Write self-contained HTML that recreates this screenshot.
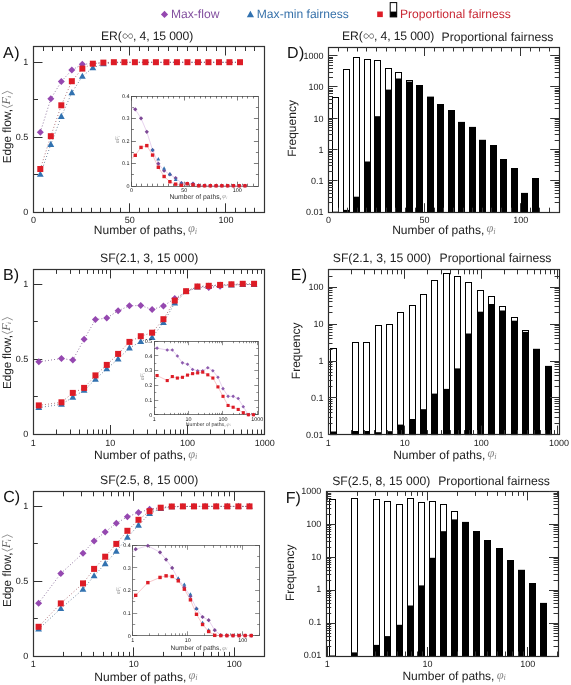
<!DOCTYPE html><html><head><meta charset="utf-8"><style>html,body{margin:0;padding:0;background:#fff;overflow:hidden}svg{display:block;filter:blur(0.3px)} text{text-rendering:geometricPrecision}</style></head><body>
<svg width="571" height="685" viewBox="0 0 571 685">
<rect x="0" y="0" width="571" height="685" fill="#fff" stroke="none" stroke-width="1"/>
<path d="M164.5 10.8L168.1 14.4L164.5 18L160.9 14.4Z" fill="#9548B0"/>
<text x="171" y="18" font-size="12.1" text-anchor="start" fill="#83509f" font-family='"Liberation Sans", sans-serif' >Max-flow</text>
<path d="M250.4 10.64L254 17.24L246.8 17.24Z" fill="#3272B0"/>
<text x="256.8" y="18" font-size="12.1" text-anchor="start" fill="#3872aa" font-family='"Liberation Sans", sans-serif' >Max-min fairness</text>
<rect x="377.2" y="11.5" width="5.6" height="5.6" fill="#DD1C26" stroke="none" stroke-width="1"/>
<rect x="390.2" y="2.6" width="6.5" height="14.3" fill="#fff" stroke="#000" stroke-width="1"/>
<rect x="390.2" y="11.6" width="6.5" height="5.3" fill="#000" stroke="none" stroke-width="1"/>
<text x="400" y="18" font-size="12.1" text-anchor="start" fill="#c92a36" font-family='"Liberation Sans", sans-serif' >Proportional fairness</text>
<rect x="33.5" y="46.5" width="231" height="166" fill="none" stroke="#333" stroke-width="1.2"/>
<line x1="33.5" y1="212.3" x2="33.5" y2="203.3" stroke="#333" stroke-width="1" />
<line x1="33.5" y1="46.5" x2="33.5" y2="55.5" stroke="#333" stroke-width="1" />
<line x1="129.5" y1="212.3" x2="129.5" y2="203.3" stroke="#333" stroke-width="1" />
<line x1="129.5" y1="46.5" x2="129.5" y2="55.5" stroke="#333" stroke-width="1" />
<line x1="225.5" y1="212.3" x2="225.5" y2="203.3" stroke="#333" stroke-width="1" />
<line x1="225.5" y1="46.5" x2="225.5" y2="55.5" stroke="#333" stroke-width="1" />
<line x1="43.5" y1="212.3" x2="43.5" y2="207.8" stroke="#333" stroke-width="1" />
<line x1="43.5" y1="46.5" x2="43.5" y2="51" stroke="#333" stroke-width="1" />
<line x1="52.5" y1="212.3" x2="52.5" y2="207.8" stroke="#333" stroke-width="1" />
<line x1="52.5" y1="46.5" x2="52.5" y2="51" stroke="#333" stroke-width="1" />
<line x1="62.5" y1="212.3" x2="62.5" y2="207.8" stroke="#333" stroke-width="1" />
<line x1="62.5" y1="46.5" x2="62.5" y2="51" stroke="#333" stroke-width="1" />
<line x1="71.5" y1="212.3" x2="71.5" y2="207.8" stroke="#333" stroke-width="1" />
<line x1="71.5" y1="46.5" x2="71.5" y2="51" stroke="#333" stroke-width="1" />
<line x1="81.5" y1="212.3" x2="81.5" y2="207.8" stroke="#333" stroke-width="1" />
<line x1="81.5" y1="46.5" x2="81.5" y2="51" stroke="#333" stroke-width="1" />
<line x1="91.5" y1="212.3" x2="91.5" y2="207.8" stroke="#333" stroke-width="1" />
<line x1="91.5" y1="46.5" x2="91.5" y2="51" stroke="#333" stroke-width="1" />
<line x1="100.5" y1="212.3" x2="100.5" y2="207.8" stroke="#333" stroke-width="1" />
<line x1="100.5" y1="46.5" x2="100.5" y2="51" stroke="#333" stroke-width="1" />
<line x1="110.5" y1="212.3" x2="110.5" y2="207.8" stroke="#333" stroke-width="1" />
<line x1="110.5" y1="46.5" x2="110.5" y2="51" stroke="#333" stroke-width="1" />
<line x1="120.5" y1="212.3" x2="120.5" y2="207.8" stroke="#333" stroke-width="1" />
<line x1="120.5" y1="46.5" x2="120.5" y2="51" stroke="#333" stroke-width="1" />
<line x1="139.5" y1="212.3" x2="139.5" y2="207.8" stroke="#333" stroke-width="1" />
<line x1="139.5" y1="46.5" x2="139.5" y2="51" stroke="#333" stroke-width="1" />
<line x1="148.5" y1="212.3" x2="148.5" y2="207.8" stroke="#333" stroke-width="1" />
<line x1="148.5" y1="46.5" x2="148.5" y2="51" stroke="#333" stroke-width="1" />
<line x1="158.5" y1="212.3" x2="158.5" y2="207.8" stroke="#333" stroke-width="1" />
<line x1="158.5" y1="46.5" x2="158.5" y2="51" stroke="#333" stroke-width="1" />
<line x1="168.5" y1="212.3" x2="168.5" y2="207.8" stroke="#333" stroke-width="1" />
<line x1="168.5" y1="46.5" x2="168.5" y2="51" stroke="#333" stroke-width="1" />
<line x1="177.5" y1="212.3" x2="177.5" y2="207.8" stroke="#333" stroke-width="1" />
<line x1="177.5" y1="46.5" x2="177.5" y2="51" stroke="#333" stroke-width="1" />
<line x1="187.5" y1="212.3" x2="187.5" y2="207.8" stroke="#333" stroke-width="1" />
<line x1="187.5" y1="46.5" x2="187.5" y2="51" stroke="#333" stroke-width="1" />
<line x1="197.5" y1="212.3" x2="197.5" y2="207.8" stroke="#333" stroke-width="1" />
<line x1="197.5" y1="46.5" x2="197.5" y2="51" stroke="#333" stroke-width="1" />
<line x1="206.5" y1="212.3" x2="206.5" y2="207.8" stroke="#333" stroke-width="1" />
<line x1="206.5" y1="46.5" x2="206.5" y2="51" stroke="#333" stroke-width="1" />
<line x1="216.5" y1="212.3" x2="216.5" y2="207.8" stroke="#333" stroke-width="1" />
<line x1="216.5" y1="46.5" x2="216.5" y2="51" stroke="#333" stroke-width="1" />
<line x1="235.5" y1="212.3" x2="235.5" y2="207.8" stroke="#333" stroke-width="1" />
<line x1="235.5" y1="46.5" x2="235.5" y2="51" stroke="#333" stroke-width="1" />
<line x1="245.5" y1="212.3" x2="245.5" y2="207.8" stroke="#333" stroke-width="1" />
<line x1="245.5" y1="46.5" x2="245.5" y2="51" stroke="#333" stroke-width="1" />
<line x1="254.5" y1="212.3" x2="254.5" y2="207.8" stroke="#333" stroke-width="1" />
<line x1="254.5" y1="46.5" x2="254.5" y2="51" stroke="#333" stroke-width="1" />
<line x1="33.5" y1="212.5" x2="42.5" y2="212.5" stroke="#333" stroke-width="1" />
<line x1="33.5" y1="137.5" x2="42.5" y2="137.5" stroke="#333" stroke-width="1" />
<line x1="33.5" y1="62.5" x2="42.5" y2="62.5" stroke="#333" stroke-width="1" />
<line x1="33.5" y1="174.5" x2="38" y2="174.5" stroke="#333" stroke-width="1" />
<line x1="33.5" y1="99.5" x2="38" y2="99.5" stroke="#333" stroke-width="1" />
<text x="33.4" y="222.9" font-size="9" text-anchor="middle" fill="#222" font-family='"Liberation Sans", sans-serif' >0</text>
<text x="129.65" y="222.9" font-size="9" text-anchor="middle" fill="#222" font-family='"Liberation Sans", sans-serif' >50</text>
<text x="225.9" y="222.9" font-size="9" text-anchor="middle" fill="#222" font-family='"Liberation Sans", sans-serif' >100</text>
<text x="28.3" y="214.9" font-size="9" text-anchor="end" fill="#222" font-family='"Liberation Sans", sans-serif' >0</text>
<text x="28.3" y="139.75" font-size="9" text-anchor="end" fill="#222" font-family='"Liberation Sans", sans-serif' >0.5</text>
<text x="28.3" y="64.6" font-size="9" text-anchor="end" fill="#222" font-family='"Liberation Sans", sans-serif' >1</text>
<text x="100.9" y="40" font-size="12.2" text-anchor="start" fill="#222" font-family='"Liberation Sans", sans-serif' >ER(</text>
<path d="M132.55 36.1 L132.53 36.43 L132.47 36.75 L132.38 37.06 L132.25 37.34 L132.1 37.59 L131.92 37.81 L131.73 37.99 L131.52 38.13 L131.31 38.23 L131.09 38.3 L130.87 38.34 L130.66 38.35 L130.44 38.33 L130.24 38.29 L130.04 38.22 L129.85 38.14 L129.66 38.04 L129.49 37.93 L129.32 37.81 L129.16 37.67 L129 37.53 L128.85 37.39 L128.71 37.24 L128.57 37.08 L128.44 36.92 L128.3 36.76 L128.18 36.6 L128.05 36.43 L127.92 36.27 L127.8 36.1 L127.68 35.93 L127.55 35.77 L127.42 35.6 L127.3 35.44 L127.16 35.28 L127.03 35.12 L126.89 34.96 L126.75 34.81 L126.6 34.67 L126.44 34.53 L126.28 34.39 L126.11 34.27 L125.94 34.16 L125.75 34.06 L125.56 33.98 L125.36 33.91 L125.16 33.87 L124.94 33.85 L124.73 33.86 L124.51 33.9 L124.29 33.97 L124.08 34.07 L123.87 34.21 L123.68 34.39 L123.5 34.61 L123.35 34.86 L123.22 35.14 L123.13 35.45 L123.07 35.77 L123.05 36.1 L123.07 36.43 L123.13 36.75 L123.22 37.06 L123.35 37.34 L123.5 37.59 L123.68 37.81 L123.87 37.99 L124.08 38.13 L124.29 38.23 L124.51 38.3 L124.73 38.34 L124.94 38.35 L125.16 38.33 L125.36 38.29 L125.56 38.22 L125.75 38.14 L125.94 38.04 L126.11 37.93 L126.28 37.81 L126.44 37.67 L126.6 37.53 L126.75 37.39 L126.89 37.24 L127.03 37.08 L127.16 36.92 L127.3 36.76 L127.42 36.6 L127.55 36.43 L127.68 36.27 L127.8 36.1 L127.92 35.93 L128.05 35.77 L128.18 35.6 L128.3 35.44 L128.44 35.28 L128.57 35.12 L128.71 34.96 L128.85 34.81 L129 34.67 L129.16 34.53 L129.32 34.39 L129.49 34.27 L129.66 34.16 L129.85 34.06 L130.04 33.98 L130.24 33.91 L130.44 33.87 L130.66 33.85 L130.87 33.86 L131.09 33.9 L131.31 33.97 L131.52 34.07 L131.73 34.21 L131.92 34.39 L132.1 34.61 L132.25 34.86 L132.38 35.14 L132.47 35.45 L132.53 35.77 L132.55 36.1Z" fill="none" stroke="#555" stroke-width="0.9"/>
<text x="133" y="40" font-size="12.2" text-anchor="start" fill="#222" font-family='"Liberation Sans", sans-serif' textLength="60.2" lengthAdjust="spacing">, 4, 15 000)</text>
<text x="3.1" y="58.1" font-size="16" fill="#111" font-family='"Liberation Sans", sans-serif'>A<tspan dx="0.4">)</tspan></text>
<path d="M40.3 174.4 L50.81 144.5 L61.32 116.5 L71.83 92.7 L82.34 76.3 L92.85 67.8 L103.36 63.8 L113.87 62.8 L124.38 62.4 L134.89 62.4 L145.4 62.4 L155.91 62.4 L166.42 62.4 L176.93 62.4 L187.44 62.4 L197.95 62.4 L208.46 62.4 L218.97 62.4 L229.48 62.4 L239.99 62.4" fill="none" stroke="#4f6a88" stroke-width="0.9" stroke-dasharray="0.9 2.2"/>
<path d="M40.3 132.3 L50.81 98.8 L61.32 81.5 L71.83 70 L82.34 64.3 L92.85 63.6 L103.36 62.6 L113.87 62.4 L124.38 62.4 L134.89 62.4 L145.4 62.4 L155.91 62.4 L166.42 62.4 L176.93 62.4 L187.44 62.4 L197.95 62.4 L208.46 62.4 L218.97 62.4 L229.48 62.4 L239.99 62.4" fill="none" stroke="#7a5a8c" stroke-width="0.9" stroke-dasharray="0.9 2.2"/>
<path d="M40.3 169 L50.81 136.2 L61.32 105.3 L71.83 81.2 L82.34 68.6 L92.85 63.7 L103.36 62.6 L113.87 62.2 L124.38 62.2 L134.89 62.2 L145.4 62.2 L155.91 62.2 L166.42 62.2 L176.93 62.2 L187.44 62.2 L197.95 62.2 L208.46 62.2 L218.97 62.2 L229.48 62.2 L239.99 62.2" fill="none" stroke="#a05a62" stroke-width="0.9" stroke-dasharray="0.9 2.2"/>
<path d="M40.3 170.74L43.7 176.84L36.9 176.84Z" fill="#3272B0"/>
<path d="M50.81 140.84L54.21 146.94L47.41 146.94Z" fill="#3272B0"/>
<path d="M61.32 112.84L64.72 118.94L57.92 118.94Z" fill="#3272B0"/>
<path d="M71.83 89.04L75.23 95.14L68.43 95.14Z" fill="#3272B0"/>
<path d="M82.34 72.64L85.74 78.74L78.94 78.74Z" fill="#3272B0"/>
<path d="M92.85 64.14L96.25 70.24L89.45 70.24Z" fill="#3272B0"/>
<path d="M103.36 60.14L106.76 66.24L99.96 66.24Z" fill="#3272B0"/>
<path d="M40.3 128.8L43.8 132.3L40.3 135.8L36.8 132.3Z" fill="#9548B0"/>
<path d="M50.81 95.3L54.31 98.8L50.81 102.3L47.31 98.8Z" fill="#9548B0"/>
<path d="M61.32 78L64.82 81.5L61.32 85L57.82 81.5Z" fill="#9548B0"/>
<path d="M71.83 66.5L75.33 70L71.83 73.5L68.33 70Z" fill="#9548B0"/>
<path d="M82.34 60.8L85.84 64.3L82.34 67.8L78.84 64.3Z" fill="#9548B0"/>
<rect x="37.3" y="166" width="6" height="6" fill="#DD1C26" stroke="none" stroke-width="1"/>
<rect x="47.81" y="133.2" width="6" height="6" fill="#DD1C26" stroke="none" stroke-width="1"/>
<rect x="58.32" y="102.3" width="6" height="6" fill="#DD1C26" stroke="none" stroke-width="1"/>
<rect x="68.83" y="78.2" width="6" height="6" fill="#DD1C26" stroke="none" stroke-width="1"/>
<rect x="79.34" y="65.6" width="6" height="6" fill="#DD1C26" stroke="none" stroke-width="1"/>
<rect x="89.85" y="60.7" width="6" height="6" fill="#DD1C26" stroke="none" stroke-width="1"/>
<rect x="100.36" y="59.6" width="6" height="6" fill="#DD1C26" stroke="none" stroke-width="1"/>
<rect x="110.87" y="59.2" width="6" height="6" fill="#DD1C26" stroke="none" stroke-width="1"/>
<rect x="121.38" y="59.2" width="6" height="6" fill="#DD1C26" stroke="none" stroke-width="1"/>
<rect x="131.89" y="59.2" width="6" height="6" fill="#DD1C26" stroke="none" stroke-width="1"/>
<rect x="142.4" y="59.2" width="6" height="6" fill="#DD1C26" stroke="none" stroke-width="1"/>
<rect x="152.91" y="59.2" width="6" height="6" fill="#DD1C26" stroke="none" stroke-width="1"/>
<rect x="163.42" y="59.2" width="6" height="6" fill="#DD1C26" stroke="none" stroke-width="1"/>
<rect x="173.93" y="59.2" width="6" height="6" fill="#DD1C26" stroke="none" stroke-width="1"/>
<rect x="184.44" y="59.2" width="6" height="6" fill="#DD1C26" stroke="none" stroke-width="1"/>
<rect x="194.95" y="59.2" width="6" height="6" fill="#DD1C26" stroke="none" stroke-width="1"/>
<rect x="205.46" y="59.2" width="6" height="6" fill="#DD1C26" stroke="none" stroke-width="1"/>
<rect x="215.97" y="59.2" width="6" height="6" fill="#DD1C26" stroke="none" stroke-width="1"/>
<rect x="226.48" y="59.2" width="6" height="6" fill="#DD1C26" stroke="none" stroke-width="1"/>
<rect x="236.99" y="59.2" width="6" height="6" fill="#DD1C26" stroke="none" stroke-width="1"/>
<rect x="131.4" y="96" width="127" height="90.2" fill="#fff" stroke="none" stroke-width="1"/>
<rect x="131.5" y="96.5" width="127" height="90" fill="none" stroke="#555" stroke-width="0.8"/>
<line x1="131.5" y1="186.2" x2="131.5" y2="181.7" stroke="#444" stroke-width="0.7" />
<line x1="131.5" y1="96" x2="131.5" y2="100.5" stroke="#444" stroke-width="0.7" />
<line x1="184.5" y1="186.2" x2="184.5" y2="181.7" stroke="#444" stroke-width="0.7" />
<line x1="184.5" y1="96" x2="184.5" y2="100.5" stroke="#444" stroke-width="0.7" />
<line x1="237.5" y1="186.2" x2="237.5" y2="181.7" stroke="#444" stroke-width="0.7" />
<line x1="237.5" y1="96" x2="237.5" y2="100.5" stroke="#444" stroke-width="0.7" />
<line x1="136.5" y1="186.2" x2="136.5" y2="183.7" stroke="#444" stroke-width="0.7" />
<line x1="136.5" y1="96" x2="136.5" y2="98.5" stroke="#444" stroke-width="0.7" />
<line x1="141.5" y1="186.2" x2="141.5" y2="183.7" stroke="#444" stroke-width="0.7" />
<line x1="141.5" y1="96" x2="141.5" y2="98.5" stroke="#444" stroke-width="0.7" />
<line x1="147.5" y1="186.2" x2="147.5" y2="183.7" stroke="#444" stroke-width="0.7" />
<line x1="147.5" y1="96" x2="147.5" y2="98.5" stroke="#444" stroke-width="0.7" />
<line x1="152.5" y1="186.2" x2="152.5" y2="183.7" stroke="#444" stroke-width="0.7" />
<line x1="152.5" y1="96" x2="152.5" y2="98.5" stroke="#444" stroke-width="0.7" />
<line x1="157.5" y1="186.2" x2="157.5" y2="183.7" stroke="#444" stroke-width="0.7" />
<line x1="157.5" y1="96" x2="157.5" y2="98.5" stroke="#444" stroke-width="0.7" />
<line x1="163.5" y1="186.2" x2="163.5" y2="183.7" stroke="#444" stroke-width="0.7" />
<line x1="163.5" y1="96" x2="163.5" y2="98.5" stroke="#444" stroke-width="0.7" />
<line x1="168.5" y1="186.2" x2="168.5" y2="183.7" stroke="#444" stroke-width="0.7" />
<line x1="168.5" y1="96" x2="168.5" y2="98.5" stroke="#444" stroke-width="0.7" />
<line x1="173.5" y1="186.2" x2="173.5" y2="183.7" stroke="#444" stroke-width="0.7" />
<line x1="173.5" y1="96" x2="173.5" y2="98.5" stroke="#444" stroke-width="0.7" />
<line x1="179.5" y1="186.2" x2="179.5" y2="183.7" stroke="#444" stroke-width="0.7" />
<line x1="179.5" y1="96" x2="179.5" y2="98.5" stroke="#444" stroke-width="0.7" />
<line x1="189.5" y1="186.2" x2="189.5" y2="183.7" stroke="#444" stroke-width="0.7" />
<line x1="189.5" y1="96" x2="189.5" y2="98.5" stroke="#444" stroke-width="0.7" />
<line x1="194.5" y1="186.2" x2="194.5" y2="183.7" stroke="#444" stroke-width="0.7" />
<line x1="194.5" y1="96" x2="194.5" y2="98.5" stroke="#444" stroke-width="0.7" />
<line x1="200.5" y1="186.2" x2="200.5" y2="183.7" stroke="#444" stroke-width="0.7" />
<line x1="200.5" y1="96" x2="200.5" y2="98.5" stroke="#444" stroke-width="0.7" />
<line x1="205.5" y1="186.2" x2="205.5" y2="183.7" stroke="#444" stroke-width="0.7" />
<line x1="205.5" y1="96" x2="205.5" y2="98.5" stroke="#444" stroke-width="0.7" />
<line x1="210.5" y1="186.2" x2="210.5" y2="183.7" stroke="#444" stroke-width="0.7" />
<line x1="210.5" y1="96" x2="210.5" y2="98.5" stroke="#444" stroke-width="0.7" />
<line x1="216.5" y1="186.2" x2="216.5" y2="183.7" stroke="#444" stroke-width="0.7" />
<line x1="216.5" y1="96" x2="216.5" y2="98.5" stroke="#444" stroke-width="0.7" />
<line x1="221.5" y1="186.2" x2="221.5" y2="183.7" stroke="#444" stroke-width="0.7" />
<line x1="221.5" y1="96" x2="221.5" y2="98.5" stroke="#444" stroke-width="0.7" />
<line x1="226.5" y1="186.2" x2="226.5" y2="183.7" stroke="#444" stroke-width="0.7" />
<line x1="226.5" y1="96" x2="226.5" y2="98.5" stroke="#444" stroke-width="0.7" />
<line x1="231.5" y1="186.2" x2="231.5" y2="183.7" stroke="#444" stroke-width="0.7" />
<line x1="231.5" y1="96" x2="231.5" y2="98.5" stroke="#444" stroke-width="0.7" />
<line x1="242.5" y1="186.2" x2="242.5" y2="183.7" stroke="#444" stroke-width="0.7" />
<line x1="242.5" y1="96" x2="242.5" y2="98.5" stroke="#444" stroke-width="0.7" />
<line x1="247.5" y1="186.2" x2="247.5" y2="183.7" stroke="#444" stroke-width="0.7" />
<line x1="247.5" y1="96" x2="247.5" y2="98.5" stroke="#444" stroke-width="0.7" />
<line x1="253.5" y1="186.2" x2="253.5" y2="183.7" stroke="#444" stroke-width="0.7" />
<line x1="253.5" y1="96" x2="253.5" y2="98.5" stroke="#444" stroke-width="0.7" />
<line x1="131.4" y1="186.5" x2="135.9" y2="186.5" stroke="#444" stroke-width="0.7" />
<line x1="258.4" y1="186.5" x2="253.9" y2="186.5" stroke="#444" stroke-width="0.7" />
<line x1="131.4" y1="163.5" x2="135.9" y2="163.5" stroke="#444" stroke-width="0.7" />
<line x1="258.4" y1="163.5" x2="253.9" y2="163.5" stroke="#444" stroke-width="0.7" />
<line x1="131.4" y1="141.5" x2="135.9" y2="141.5" stroke="#444" stroke-width="0.7" />
<line x1="258.4" y1="141.5" x2="253.9" y2="141.5" stroke="#444" stroke-width="0.7" />
<line x1="131.4" y1="118.5" x2="135.9" y2="118.5" stroke="#444" stroke-width="0.7" />
<line x1="258.4" y1="118.5" x2="253.9" y2="118.5" stroke="#444" stroke-width="0.7" />
<line x1="131.4" y1="96.5" x2="135.9" y2="96.5" stroke="#444" stroke-width="0.7" />
<line x1="258.4" y1="96.5" x2="253.9" y2="96.5" stroke="#444" stroke-width="0.7" />
<line x1="131.4" y1="174.5" x2="133.9" y2="174.5" stroke="#444" stroke-width="0.7" />
<line x1="258.4" y1="174.5" x2="255.9" y2="174.5" stroke="#444" stroke-width="0.7" />
<line x1="131.4" y1="152.5" x2="133.9" y2="152.5" stroke="#444" stroke-width="0.7" />
<line x1="258.4" y1="152.5" x2="255.9" y2="152.5" stroke="#444" stroke-width="0.7" />
<line x1="131.4" y1="129.5" x2="133.9" y2="129.5" stroke="#444" stroke-width="0.7" />
<line x1="258.4" y1="129.5" x2="255.9" y2="129.5" stroke="#444" stroke-width="0.7" />
<line x1="131.4" y1="107.5" x2="133.9" y2="107.5" stroke="#444" stroke-width="0.7" />
<line x1="258.4" y1="107.5" x2="255.9" y2="107.5" stroke="#444" stroke-width="0.7" />
<text x="129.4" y="187.9" font-size="5.4" text-anchor="end" fill="#111" font-family='"Liberation Sans", sans-serif' >0</text>
<text x="129.4" y="165.35" font-size="5.4" text-anchor="end" fill="#111" font-family='"Liberation Sans", sans-serif' >0.1</text>
<text x="129.4" y="142.8" font-size="5.4" text-anchor="end" fill="#111" font-family='"Liberation Sans", sans-serif' >0.2</text>
<text x="129.4" y="120.25" font-size="5.4" text-anchor="end" fill="#111" font-family='"Liberation Sans", sans-serif' >0.3</text>
<text x="129.4" y="97.7" font-size="5.4" text-anchor="end" fill="#111" font-family='"Liberation Sans", sans-serif' >0.4</text>
<text x="131.4" y="192.3" font-size="5.4" text-anchor="middle" fill="#111" font-family='"Liberation Sans", sans-serif' >0</text>
<text x="184.32" y="192.3" font-size="5.4" text-anchor="middle" fill="#111" font-family='"Liberation Sans", sans-serif' >50</text>
<text x="237.23" y="192.3" font-size="5.4" text-anchor="middle" fill="#111" font-family='"Liberation Sans", sans-serif' >100</text>
<text x="169.4" y="198.8" font-size="6.8" text-anchor="start" fill="#333" font-family='"Liberation Sans", sans-serif' >Number of paths,</text>
<text x="222.2" y="198.3" font-size="6.5" text-anchor="start" fill="#999" font-family='"Liberation Serif", serif' font-style="italic" >φ</text>
<text x="226.2" y="198.8" font-size="4" text-anchor="start" fill="#999" font-family='"Liberation Serif", serif' font-style="italic" >i</text>
<g transform="translate(118.8,143.2) rotate(-90)">
<text x="0" y="0" font-size="5.8" fill="#888" font-family='"Liberation Serif", serif' font-style="italic">σF<tspan font-size="3.8" dy="1">i</tspan></text>
</g>
<path d="M131.4 107.28 L135.25 109.3 L141.02 118.32 L146.8 131.85 L152.57 150.12 L158.35 163.65 L164.12 170.64 L169.9 174.47 L175.67 178.08 L181.45 183.04 L187.22 183.49 L193 183.49 L198.77 185.3 L204.55 185.52 L210.33 185.75 L216.1 185.75 L221.88 185.75 L227.65 185.75 L233.43 185.75 L239.2 185.75 L244.98 185.75" fill="none" stroke="#dcbfe6" stroke-width="0.7"/>
<path d="M131.4 159.14 L135.25 155.31 L141.02 147.41 L146.8 145.61 L152.57 155.08 L158.35 167.26 L164.12 176.5 L169.9 181.69 L175.67 184.17 L181.45 185.3 L187.22 183.72 L193 184.85 L198.77 185.75 L204.55 185.75 L210.33 185.75 L216.1 185.75 L221.88 185.75 L227.65 185.75 L233.43 185.75 L239.2 185.75 L244.98 185.75" fill="none" stroke="#f2b0b6" stroke-width="0.7"/>
<path d="M135.25 107.2L137.35 109.3L135.25 111.4L133.15 109.3Z" fill="#7d4896"/>
<path d="M141.02 116.22L143.12 118.32L141.02 120.42L138.92 118.32Z" fill="#7d4896"/>
<path d="M146.8 129.75L148.9 131.85L146.8 133.95L144.7 131.85Z" fill="#7d4896"/>
<path d="M152.57 148.02L154.67 150.12L152.57 152.22L150.47 150.12Z" fill="#7d4896"/>
<path d="M158.35 161.55L160.45 163.65L158.35 165.75L156.25 163.65Z" fill="#7d4896"/>
<path d="M164.12 168.54L166.22 170.64L164.12 172.74L162.02 170.64Z" fill="#7d4896"/>
<path d="M169.9 172.37L172 174.47L169.9 176.57L167.8 174.47Z" fill="#7d4896"/>
<path d="M175.67 175.98L177.77 178.08L175.67 180.18L173.57 178.08Z" fill="#7d4896"/>
<path d="M181.45 180.94L183.55 183.04L181.45 185.14L179.35 183.04Z" fill="#7d4896"/>
<path d="M187.22 181.39L189.32 183.49L187.22 185.59L185.12 183.49Z" fill="#7d4896"/>
<path d="M193 181.39L195.1 183.49L193 185.59L190.9 183.49Z" fill="#7d4896"/>
<path d="M198.77 183.2L200.87 185.3L198.77 187.4L196.67 185.3Z" fill="#7d4896"/>
<path d="M204.55 183.42L206.65 185.52L204.55 187.62L202.45 185.52Z" fill="#7d4896"/>
<path d="M210.33 183.65L212.43 185.75L210.33 187.85L208.23 185.75Z" fill="#7d4896"/>
<path d="M216.1 183.65L218.2 185.75L216.1 187.85L214 185.75Z" fill="#7d4896"/>
<path d="M221.88 183.65L223.98 185.75L221.88 187.85L219.78 185.75Z" fill="#7d4896"/>
<path d="M227.65 183.65L229.75 185.75L227.65 187.85L225.55 185.75Z" fill="#7d4896"/>
<path d="M233.43 183.65L235.53 185.75L233.43 187.85L231.33 185.75Z" fill="#7d4896"/>
<path d="M239.2 183.65L241.3 185.75L239.2 187.85L237.1 185.75Z" fill="#7d4896"/>
<path d="M244.98 183.65L247.08 185.75L244.98 187.85L242.88 185.75Z" fill="#7d4896"/>
<path d="M152.57 147.85L154.47 151.25L150.67 151.25Z" fill="#3272B0"/>
<path d="M158.35 157.1L160.25 160.5L156.45 160.5Z" fill="#3272B0"/>
<path d="M164.12 166.35L166.02 169.75L162.22 169.75Z" fill="#3272B0"/>
<path d="M169.9 171.98L171.8 175.38L168 175.38Z" fill="#3272B0"/>
<path d="M175.67 177.62L177.57 181.02L173.77 181.02Z" fill="#3272B0"/>
<path d="M181.45 181.23L183.35 184.63L179.55 184.63Z" fill="#3272B0"/>
<path d="M187.22 181.91L189.12 185.31L185.32 185.31Z" fill="#3272B0"/>
<path d="M193 182.36L194.9 185.76L191.1 185.76Z" fill="#3272B0"/>
<path d="M198.77 183.48L200.67 186.88L196.87 186.88Z" fill="#3272B0"/>
<path d="M204.55 183.71L206.45 187.11L202.65 187.11Z" fill="#3272B0"/>
<path d="M210.33 183.71L212.23 187.11L208.43 187.11Z" fill="#3272B0"/>
<path d="M216.1 183.71L218 187.11L214.2 187.11Z" fill="#3272B0"/>
<path d="M221.88 183.71L223.78 187.11L219.98 187.11Z" fill="#3272B0"/>
<path d="M227.65 183.71L229.55 187.11L225.75 187.11Z" fill="#3272B0"/>
<path d="M233.43 183.71L235.33 187.11L231.53 187.11Z" fill="#3272B0"/>
<path d="M239.2 183.71L241.1 187.11L237.3 187.11Z" fill="#3272B0"/>
<path d="M244.98 183.71L246.88 187.11L243.08 187.11Z" fill="#3272B0"/>
<rect x="133.55" y="153.61" width="3.4" height="3.4" fill="#DD1C26" stroke="none" stroke-width="1"/>
<rect x="139.32" y="145.71" width="3.4" height="3.4" fill="#DD1C26" stroke="none" stroke-width="1"/>
<rect x="145.1" y="143.91" width="3.4" height="3.4" fill="#DD1C26" stroke="none" stroke-width="1"/>
<rect x="150.87" y="153.38" width="3.4" height="3.4" fill="#DD1C26" stroke="none" stroke-width="1"/>
<rect x="156.65" y="165.56" width="3.4" height="3.4" fill="#DD1C26" stroke="none" stroke-width="1"/>
<rect x="162.42" y="174.8" width="3.4" height="3.4" fill="#DD1C26" stroke="none" stroke-width="1"/>
<rect x="168.2" y="179.99" width="3.4" height="3.4" fill="#DD1C26" stroke="none" stroke-width="1"/>
<rect x="173.97" y="182.47" width="3.4" height="3.4" fill="#DD1C26" stroke="none" stroke-width="1"/>
<rect x="179.75" y="183.6" width="3.4" height="3.4" fill="#DD1C26" stroke="none" stroke-width="1"/>
<rect x="185.52" y="182.02" width="3.4" height="3.4" fill="#DD1C26" stroke="none" stroke-width="1"/>
<rect x="191.3" y="183.15" width="3.4" height="3.4" fill="#DD1C26" stroke="none" stroke-width="1"/>
<rect x="197.07" y="184.05" width="3.4" height="3.4" fill="#DD1C26" stroke="none" stroke-width="1"/>
<rect x="202.85" y="184.05" width="3.4" height="3.4" fill="#DD1C26" stroke="none" stroke-width="1"/>
<rect x="208.63" y="184.05" width="3.4" height="3.4" fill="#DD1C26" stroke="none" stroke-width="1"/>
<rect x="214.4" y="184.05" width="3.4" height="3.4" fill="#DD1C26" stroke="none" stroke-width="1"/>
<rect x="220.18" y="184.05" width="3.4" height="3.4" fill="#DD1C26" stroke="none" stroke-width="1"/>
<rect x="225.95" y="184.05" width="3.4" height="3.4" fill="#DD1C26" stroke="none" stroke-width="1"/>
<rect x="231.73" y="184.05" width="3.4" height="3.4" fill="#DD1C26" stroke="none" stroke-width="1"/>
<rect x="237.5" y="184.05" width="3.4" height="3.4" fill="#DD1C26" stroke="none" stroke-width="1"/>
<rect x="243.28" y="184.05" width="3.4" height="3.4" fill="#DD1C26" stroke="none" stroke-width="1"/>
<rect x="33.5" y="269.5" width="231" height="165" fill="none" stroke="#333" stroke-width="1.2"/>
<line x1="33.5" y1="434" x2="33.5" y2="425" stroke="#333" stroke-width="1" />
<line x1="33.5" y1="269.4" x2="33.5" y2="278.4" stroke="#333" stroke-width="1" />
<line x1="110.5" y1="434" x2="110.5" y2="425" stroke="#333" stroke-width="1" />
<line x1="110.5" y1="269.4" x2="110.5" y2="278.4" stroke="#333" stroke-width="1" />
<line x1="187.5" y1="434" x2="187.5" y2="425" stroke="#333" stroke-width="1" />
<line x1="187.5" y1="269.4" x2="187.5" y2="278.4" stroke="#333" stroke-width="1" />
<line x1="264.5" y1="434" x2="264.5" y2="425" stroke="#333" stroke-width="1" />
<line x1="264.5" y1="269.4" x2="264.5" y2="278.4" stroke="#333" stroke-width="1" />
<line x1="56.5" y1="434" x2="56.5" y2="429.5" stroke="#333" stroke-width="1" />
<line x1="56.5" y1="269.4" x2="56.5" y2="273.9" stroke="#333" stroke-width="1" />
<line x1="70.5" y1="434" x2="70.5" y2="429.5" stroke="#333" stroke-width="1" />
<line x1="70.5" y1="269.4" x2="70.5" y2="273.9" stroke="#333" stroke-width="1" />
<line x1="79.5" y1="434" x2="79.5" y2="429.5" stroke="#333" stroke-width="1" />
<line x1="79.5" y1="269.4" x2="79.5" y2="273.9" stroke="#333" stroke-width="1" />
<line x1="87.5" y1="434" x2="87.5" y2="429.5" stroke="#333" stroke-width="1" />
<line x1="87.5" y1="269.4" x2="87.5" y2="273.9" stroke="#333" stroke-width="1" />
<line x1="93.5" y1="434" x2="93.5" y2="429.5" stroke="#333" stroke-width="1" />
<line x1="93.5" y1="269.4" x2="93.5" y2="273.9" stroke="#333" stroke-width="1" />
<line x1="98.5" y1="434" x2="98.5" y2="429.5" stroke="#333" stroke-width="1" />
<line x1="98.5" y1="269.4" x2="98.5" y2="273.9" stroke="#333" stroke-width="1" />
<line x1="102.5" y1="434" x2="102.5" y2="429.5" stroke="#333" stroke-width="1" />
<line x1="102.5" y1="269.4" x2="102.5" y2="273.9" stroke="#333" stroke-width="1" />
<line x1="106.5" y1="434" x2="106.5" y2="429.5" stroke="#333" stroke-width="1" />
<line x1="106.5" y1="269.4" x2="106.5" y2="273.9" stroke="#333" stroke-width="1" />
<line x1="133.5" y1="434" x2="133.5" y2="429.5" stroke="#333" stroke-width="1" />
<line x1="133.5" y1="269.4" x2="133.5" y2="273.9" stroke="#333" stroke-width="1" />
<line x1="147.5" y1="434" x2="147.5" y2="429.5" stroke="#333" stroke-width="1" />
<line x1="147.5" y1="269.4" x2="147.5" y2="273.9" stroke="#333" stroke-width="1" />
<line x1="156.5" y1="434" x2="156.5" y2="429.5" stroke="#333" stroke-width="1" />
<line x1="156.5" y1="269.4" x2="156.5" y2="273.9" stroke="#333" stroke-width="1" />
<line x1="164.5" y1="434" x2="164.5" y2="429.5" stroke="#333" stroke-width="1" />
<line x1="164.5" y1="269.4" x2="164.5" y2="273.9" stroke="#333" stroke-width="1" />
<line x1="170.5" y1="434" x2="170.5" y2="429.5" stroke="#333" stroke-width="1" />
<line x1="170.5" y1="269.4" x2="170.5" y2="273.9" stroke="#333" stroke-width="1" />
<line x1="175.5" y1="434" x2="175.5" y2="429.5" stroke="#333" stroke-width="1" />
<line x1="175.5" y1="269.4" x2="175.5" y2="273.9" stroke="#333" stroke-width="1" />
<line x1="180.5" y1="434" x2="180.5" y2="429.5" stroke="#333" stroke-width="1" />
<line x1="180.5" y1="269.4" x2="180.5" y2="273.9" stroke="#333" stroke-width="1" />
<line x1="183.5" y1="434" x2="183.5" y2="429.5" stroke="#333" stroke-width="1" />
<line x1="183.5" y1="269.4" x2="183.5" y2="273.9" stroke="#333" stroke-width="1" />
<line x1="210.5" y1="434" x2="210.5" y2="429.5" stroke="#333" stroke-width="1" />
<line x1="210.5" y1="269.4" x2="210.5" y2="273.9" stroke="#333" stroke-width="1" />
<line x1="224.5" y1="434" x2="224.5" y2="429.5" stroke="#333" stroke-width="1" />
<line x1="224.5" y1="269.4" x2="224.5" y2="273.9" stroke="#333" stroke-width="1" />
<line x1="233.5" y1="434" x2="233.5" y2="429.5" stroke="#333" stroke-width="1" />
<line x1="233.5" y1="269.4" x2="233.5" y2="273.9" stroke="#333" stroke-width="1" />
<line x1="241.5" y1="434" x2="241.5" y2="429.5" stroke="#333" stroke-width="1" />
<line x1="241.5" y1="269.4" x2="241.5" y2="273.9" stroke="#333" stroke-width="1" />
<line x1="247.5" y1="434" x2="247.5" y2="429.5" stroke="#333" stroke-width="1" />
<line x1="247.5" y1="269.4" x2="247.5" y2="273.9" stroke="#333" stroke-width="1" />
<line x1="252.5" y1="434" x2="252.5" y2="429.5" stroke="#333" stroke-width="1" />
<line x1="252.5" y1="269.4" x2="252.5" y2="273.9" stroke="#333" stroke-width="1" />
<line x1="257.5" y1="434" x2="257.5" y2="429.5" stroke="#333" stroke-width="1" />
<line x1="257.5" y1="269.4" x2="257.5" y2="273.9" stroke="#333" stroke-width="1" />
<line x1="261.5" y1="434" x2="261.5" y2="429.5" stroke="#333" stroke-width="1" />
<line x1="261.5" y1="269.4" x2="261.5" y2="273.9" stroke="#333" stroke-width="1" />
<line x1="33.3" y1="434.5" x2="42.3" y2="434.5" stroke="#333" stroke-width="1" />
<line x1="33.3" y1="359.5" x2="42.3" y2="359.5" stroke="#333" stroke-width="1" />
<line x1="33.3" y1="284.5" x2="42.3" y2="284.5" stroke="#333" stroke-width="1" />
<line x1="33.3" y1="396.5" x2="37.8" y2="396.5" stroke="#333" stroke-width="1" />
<line x1="33.3" y1="321.5" x2="37.8" y2="321.5" stroke="#333" stroke-width="1" />
<text x="33.2" y="445.8" font-size="9" text-anchor="middle" fill="#222" font-family='"Liberation Sans", sans-serif' >1</text>
<text x="110.35" y="445.8" font-size="9" text-anchor="middle" fill="#222" font-family='"Liberation Sans", sans-serif' >10</text>
<text x="187.5" y="445.8" font-size="9" text-anchor="middle" fill="#222" font-family='"Liberation Sans", sans-serif' >100</text>
<text x="264.65" y="445.8" font-size="9" text-anchor="middle" fill="#222" font-family='"Liberation Sans", sans-serif' >1000</text>
<text x="28.3" y="436.8" font-size="9" text-anchor="end" fill="#222" font-family='"Liberation Sans", sans-serif' >0</text>
<text x="28.3" y="361.8" font-size="9" text-anchor="end" fill="#222" font-family='"Liberation Sans", sans-serif' >0.5</text>
<text x="28.3" y="286.8" font-size="9" text-anchor="end" fill="#222" font-family='"Liberation Sans", sans-serif' >1</text>
<text x="100" y="261.9" font-size="12.2" text-anchor="start" fill="#222" font-family='"Liberation Sans", sans-serif' >SF(2.1, 3, 15 000)</text>
<text x="3" y="280.1" font-size="16" fill="#111" font-family='"Liberation Sans", sans-serif'>B<tspan dx="0.1">)</tspan></text>
<path d="M38.8 407.6 L61.46 404.3 L72.79 397.3 L84.12 390.3 L95.45 379.3 L106.78 368.8 L118.11 359 L129.44 348 L140.77 341.6 L152.1 337.5 L163.43 322.6 L174.76 303 L186.09 291.6 L197.42 287 L208.75 286.2 L220.08 285.2 L231.41 285 L242.74 284.5 L254.07 284.5" fill="none" stroke="#4f6a88" stroke-width="0.9" stroke-dasharray="0.9 2.2"/>
<path d="M38.8 361.8 L61.46 358.5 L72.79 360.1 L84.12 339.3 L95.45 319.6 L106.78 318 L118.11 310.8 L129.44 305.8 L140.77 305.5 L152.1 309.5 L163.43 306 L174.76 298.5 L186.09 292 L197.42 287.5 L208.75 287.6 L220.08 286.2 L231.41 285 L242.74 284.5 L254.07 284.5" fill="none" stroke="#7a5a8c" stroke-width="0.9" stroke-dasharray="0.9 2.2"/>
<path d="M38.8 405.4 L61.46 402.3 L72.79 392.9 L84.12 387.9 L95.45 375.4 L106.78 364.9 L118.11 353.9 L129.44 341.9 L140.77 336.2 L152.1 332.7 L163.43 319.2 L174.76 300.6 L186.09 291.2 L197.42 286.5 L208.75 285.8 L220.08 284.9 L231.41 284.3 L242.74 283.8 L254.07 283.8" fill="none" stroke="#a05a62" stroke-width="0.9" stroke-dasharray="0.9 2.2"/>
<path d="M38.8 403.94L42.2 410.04L35.4 410.04Z" fill="#3272B0"/>
<path d="M61.46 400.64L64.86 406.74L58.06 406.74Z" fill="#3272B0"/>
<path d="M72.79 393.64L76.19 399.74L69.39 399.74Z" fill="#3272B0"/>
<path d="M84.12 386.64L87.52 392.74L80.72 392.74Z" fill="#3272B0"/>
<path d="M95.45 375.64L98.85 381.74L92.05 381.74Z" fill="#3272B0"/>
<path d="M106.78 365.14L110.18 371.24L103.38 371.24Z" fill="#3272B0"/>
<path d="M118.11 355.34L121.51 361.44L114.71 361.44Z" fill="#3272B0"/>
<path d="M129.44 344.34L132.84 350.44L126.04 350.44Z" fill="#3272B0"/>
<path d="M140.77 337.94L144.17 344.04L137.37 344.04Z" fill="#3272B0"/>
<path d="M152.1 333.84L155.5 339.94L148.7 339.94Z" fill="#3272B0"/>
<path d="M163.43 318.94L166.83 325.04L160.03 325.04Z" fill="#3272B0"/>
<path d="M174.76 299.34L178.16 305.44L171.36 305.44Z" fill="#3272B0"/>
<path d="M186.09 287.94L189.49 294.04L182.69 294.04Z" fill="#3272B0"/>
<path d="M197.42 283.34L200.82 289.44L194.02 289.44Z" fill="#3272B0"/>
<path d="M208.75 282.54L212.15 288.64L205.35 288.64Z" fill="#3272B0"/>
<path d="M220.08 281.54L223.48 287.64L216.68 287.64Z" fill="#3272B0"/>
<path d="M231.41 281.34L234.81 287.44L228.01 287.44Z" fill="#3272B0"/>
<path d="M242.74 280.84L246.14 286.94L239.34 286.94Z" fill="#3272B0"/>
<path d="M254.07 280.84L257.47 286.94L250.67 286.94Z" fill="#3272B0"/>
<path d="M38.8 358.3L42.3 361.8L38.8 365.3L35.3 361.8Z" fill="#9548B0"/>
<path d="M61.46 355L64.96 358.5L61.46 362L57.96 358.5Z" fill="#9548B0"/>
<path d="M72.79 356.6L76.29 360.1L72.79 363.6L69.29 360.1Z" fill="#9548B0"/>
<path d="M84.12 335.8L87.62 339.3L84.12 342.8L80.62 339.3Z" fill="#9548B0"/>
<path d="M95.45 316.1L98.95 319.6L95.45 323.1L91.95 319.6Z" fill="#9548B0"/>
<path d="M106.78 314.5L110.28 318L106.78 321.5L103.28 318Z" fill="#9548B0"/>
<path d="M118.11 307.3L121.61 310.8L118.11 314.3L114.61 310.8Z" fill="#9548B0"/>
<path d="M129.44 302.3L132.94 305.8L129.44 309.3L125.94 305.8Z" fill="#9548B0"/>
<path d="M140.77 302L144.27 305.5L140.77 309L137.27 305.5Z" fill="#9548B0"/>
<path d="M152.1 306L155.6 309.5L152.1 313L148.6 309.5Z" fill="#9548B0"/>
<path d="M163.43 302.5L166.93 306L163.43 309.5L159.93 306Z" fill="#9548B0"/>
<path d="M174.76 295L178.26 298.5L174.76 302L171.26 298.5Z" fill="#9548B0"/>
<path d="M208.75 284.1L212.25 287.6L208.75 291.1L205.25 287.6Z" fill="#9548B0"/>
<path d="M220.08 282.7L223.58 286.2L220.08 289.7L216.58 286.2Z" fill="#9548B0"/>
<rect x="35.8" y="402.4" width="6" height="6" fill="#DD1C26" stroke="none" stroke-width="1"/>
<rect x="58.46" y="399.3" width="6" height="6" fill="#DD1C26" stroke="none" stroke-width="1"/>
<rect x="69.79" y="389.9" width="6" height="6" fill="#DD1C26" stroke="none" stroke-width="1"/>
<rect x="81.12" y="384.9" width="6" height="6" fill="#DD1C26" stroke="none" stroke-width="1"/>
<rect x="92.45" y="372.4" width="6" height="6" fill="#DD1C26" stroke="none" stroke-width="1"/>
<rect x="103.78" y="361.9" width="6" height="6" fill="#DD1C26" stroke="none" stroke-width="1"/>
<rect x="115.11" y="350.9" width="6" height="6" fill="#DD1C26" stroke="none" stroke-width="1"/>
<rect x="126.44" y="338.9" width="6" height="6" fill="#DD1C26" stroke="none" stroke-width="1"/>
<rect x="137.77" y="333.2" width="6" height="6" fill="#DD1C26" stroke="none" stroke-width="1"/>
<rect x="149.1" y="329.7" width="6" height="6" fill="#DD1C26" stroke="none" stroke-width="1"/>
<rect x="160.43" y="316.2" width="6" height="6" fill="#DD1C26" stroke="none" stroke-width="1"/>
<rect x="171.76" y="297.6" width="6" height="6" fill="#DD1C26" stroke="none" stroke-width="1"/>
<rect x="183.09" y="288.2" width="6" height="6" fill="#DD1C26" stroke="none" stroke-width="1"/>
<rect x="194.42" y="283.5" width="6" height="6" fill="#DD1C26" stroke="none" stroke-width="1"/>
<rect x="205.75" y="282.8" width="6" height="6" fill="#DD1C26" stroke="none" stroke-width="1"/>
<rect x="217.08" y="281.9" width="6" height="6" fill="#DD1C26" stroke="none" stroke-width="1"/>
<rect x="228.41" y="281.3" width="6" height="6" fill="#DD1C26" stroke="none" stroke-width="1"/>
<rect x="239.74" y="280.8" width="6" height="6" fill="#DD1C26" stroke="none" stroke-width="1"/>
<rect x="251.07" y="280.8" width="6" height="6" fill="#DD1C26" stroke="none" stroke-width="1"/>
<rect x="154.3" y="341.2" width="104" height="73.7" fill="#fff" stroke="none" stroke-width="1"/>
<rect x="154.5" y="341.5" width="104" height="73" fill="none" stroke="#555" stroke-width="0.8"/>
<line x1="154.5" y1="414.9" x2="154.5" y2="410.9" stroke="#444" stroke-width="0.6" />
<line x1="154.5" y1="341.2" x2="154.5" y2="345.2" stroke="#444" stroke-width="0.6" />
<line x1="188.5" y1="414.9" x2="188.5" y2="410.9" stroke="#444" stroke-width="0.6" />
<line x1="188.5" y1="341.2" x2="188.5" y2="345.2" stroke="#444" stroke-width="0.6" />
<line x1="222.5" y1="414.9" x2="222.5" y2="410.9" stroke="#444" stroke-width="0.6" />
<line x1="222.5" y1="341.2" x2="222.5" y2="345.2" stroke="#444" stroke-width="0.6" />
<line x1="257.5" y1="414.9" x2="257.5" y2="410.9" stroke="#444" stroke-width="0.6" />
<line x1="257.5" y1="341.2" x2="257.5" y2="345.2" stroke="#444" stroke-width="0.6" />
<line x1="164.5" y1="414.9" x2="164.5" y2="412.9" stroke="#444" stroke-width="0.6" />
<line x1="164.5" y1="341.2" x2="164.5" y2="343.2" stroke="#444" stroke-width="0.6" />
<line x1="170.5" y1="414.9" x2="170.5" y2="412.9" stroke="#444" stroke-width="0.6" />
<line x1="170.5" y1="341.2" x2="170.5" y2="343.2" stroke="#444" stroke-width="0.6" />
<line x1="174.5" y1="414.9" x2="174.5" y2="412.9" stroke="#444" stroke-width="0.6" />
<line x1="174.5" y1="341.2" x2="174.5" y2="343.2" stroke="#444" stroke-width="0.6" />
<line x1="178.5" y1="414.9" x2="178.5" y2="412.9" stroke="#444" stroke-width="0.6" />
<line x1="178.5" y1="341.2" x2="178.5" y2="343.2" stroke="#444" stroke-width="0.6" />
<line x1="180.5" y1="414.9" x2="180.5" y2="412.9" stroke="#444" stroke-width="0.6" />
<line x1="180.5" y1="341.2" x2="180.5" y2="343.2" stroke="#444" stroke-width="0.6" />
<line x1="183.5" y1="414.9" x2="183.5" y2="412.9" stroke="#444" stroke-width="0.6" />
<line x1="183.5" y1="341.2" x2="183.5" y2="343.2" stroke="#444" stroke-width="0.6" />
<line x1="185.5" y1="414.9" x2="185.5" y2="412.9" stroke="#444" stroke-width="0.6" />
<line x1="185.5" y1="341.2" x2="185.5" y2="343.2" stroke="#444" stroke-width="0.6" />
<line x1="187.5" y1="414.9" x2="187.5" y2="412.9" stroke="#444" stroke-width="0.6" />
<line x1="187.5" y1="341.2" x2="187.5" y2="343.2" stroke="#444" stroke-width="0.6" />
<line x1="198.5" y1="414.9" x2="198.5" y2="412.9" stroke="#444" stroke-width="0.6" />
<line x1="198.5" y1="341.2" x2="198.5" y2="343.2" stroke="#444" stroke-width="0.6" />
<line x1="204.5" y1="414.9" x2="204.5" y2="412.9" stroke="#444" stroke-width="0.6" />
<line x1="204.5" y1="341.2" x2="204.5" y2="343.2" stroke="#444" stroke-width="0.6" />
<line x1="209.5" y1="414.9" x2="209.5" y2="412.9" stroke="#444" stroke-width="0.6" />
<line x1="209.5" y1="341.2" x2="209.5" y2="343.2" stroke="#444" stroke-width="0.6" />
<line x1="212.5" y1="414.9" x2="212.5" y2="412.9" stroke="#444" stroke-width="0.6" />
<line x1="212.5" y1="341.2" x2="212.5" y2="343.2" stroke="#444" stroke-width="0.6" />
<line x1="215.5" y1="414.9" x2="215.5" y2="412.9" stroke="#444" stroke-width="0.6" />
<line x1="215.5" y1="341.2" x2="215.5" y2="343.2" stroke="#444" stroke-width="0.6" />
<line x1="217.5" y1="414.9" x2="217.5" y2="412.9" stroke="#444" stroke-width="0.6" />
<line x1="217.5" y1="341.2" x2="217.5" y2="343.2" stroke="#444" stroke-width="0.6" />
<line x1="219.5" y1="414.9" x2="219.5" y2="412.9" stroke="#444" stroke-width="0.6" />
<line x1="219.5" y1="341.2" x2="219.5" y2="343.2" stroke="#444" stroke-width="0.6" />
<line x1="221.5" y1="414.9" x2="221.5" y2="412.9" stroke="#444" stroke-width="0.6" />
<line x1="221.5" y1="341.2" x2="221.5" y2="343.2" stroke="#444" stroke-width="0.6" />
<line x1="233.5" y1="414.9" x2="233.5" y2="412.9" stroke="#444" stroke-width="0.6" />
<line x1="233.5" y1="341.2" x2="233.5" y2="343.2" stroke="#444" stroke-width="0.6" />
<line x1="239.5" y1="414.9" x2="239.5" y2="412.9" stroke="#444" stroke-width="0.6" />
<line x1="239.5" y1="341.2" x2="239.5" y2="343.2" stroke="#444" stroke-width="0.6" />
<line x1="243.5" y1="414.9" x2="243.5" y2="412.9" stroke="#444" stroke-width="0.6" />
<line x1="243.5" y1="341.2" x2="243.5" y2="343.2" stroke="#444" stroke-width="0.6" />
<line x1="246.5" y1="414.9" x2="246.5" y2="412.9" stroke="#444" stroke-width="0.6" />
<line x1="246.5" y1="341.2" x2="246.5" y2="343.2" stroke="#444" stroke-width="0.6" />
<line x1="249.5" y1="414.9" x2="249.5" y2="412.9" stroke="#444" stroke-width="0.6" />
<line x1="249.5" y1="341.2" x2="249.5" y2="343.2" stroke="#444" stroke-width="0.6" />
<line x1="251.5" y1="414.9" x2="251.5" y2="412.9" stroke="#444" stroke-width="0.6" />
<line x1="251.5" y1="341.2" x2="251.5" y2="343.2" stroke="#444" stroke-width="0.6" />
<line x1="253.5" y1="414.9" x2="253.5" y2="412.9" stroke="#444" stroke-width="0.6" />
<line x1="253.5" y1="341.2" x2="253.5" y2="343.2" stroke="#444" stroke-width="0.6" />
<line x1="255.5" y1="414.9" x2="255.5" y2="412.9" stroke="#444" stroke-width="0.6" />
<line x1="255.5" y1="341.2" x2="255.5" y2="343.2" stroke="#444" stroke-width="0.6" />
<line x1="154.3" y1="414.5" x2="158.3" y2="414.5" stroke="#444" stroke-width="0.6" />
<line x1="258.3" y1="414.5" x2="254.3" y2="414.5" stroke="#444" stroke-width="0.6" />
<line x1="154.3" y1="400.5" x2="158.3" y2="400.5" stroke="#444" stroke-width="0.6" />
<line x1="258.3" y1="400.5" x2="254.3" y2="400.5" stroke="#444" stroke-width="0.6" />
<line x1="154.3" y1="385.5" x2="158.3" y2="385.5" stroke="#444" stroke-width="0.6" />
<line x1="258.3" y1="385.5" x2="254.3" y2="385.5" stroke="#444" stroke-width="0.6" />
<line x1="154.3" y1="370.5" x2="158.3" y2="370.5" stroke="#444" stroke-width="0.6" />
<line x1="258.3" y1="370.5" x2="254.3" y2="370.5" stroke="#444" stroke-width="0.6" />
<line x1="154.3" y1="355.5" x2="158.3" y2="355.5" stroke="#444" stroke-width="0.6" />
<line x1="258.3" y1="355.5" x2="254.3" y2="355.5" stroke="#444" stroke-width="0.6" />
<line x1="154.3" y1="341.5" x2="158.3" y2="341.5" stroke="#444" stroke-width="0.6" />
<line x1="258.3" y1="341.5" x2="254.3" y2="341.5" stroke="#444" stroke-width="0.6" />
<line x1="154.3" y1="407.5" x2="156.3" y2="407.5" stroke="#444" stroke-width="0.6" />
<line x1="258.3" y1="407.5" x2="256.3" y2="407.5" stroke="#444" stroke-width="0.6" />
<line x1="154.3" y1="392.5" x2="156.3" y2="392.5" stroke="#444" stroke-width="0.6" />
<line x1="258.3" y1="392.5" x2="256.3" y2="392.5" stroke="#444" stroke-width="0.6" />
<line x1="154.3" y1="378.5" x2="156.3" y2="378.5" stroke="#444" stroke-width="0.6" />
<line x1="258.3" y1="378.5" x2="256.3" y2="378.5" stroke="#444" stroke-width="0.6" />
<line x1="154.3" y1="363.5" x2="156.3" y2="363.5" stroke="#444" stroke-width="0.6" />
<line x1="258.3" y1="363.5" x2="256.3" y2="363.5" stroke="#444" stroke-width="0.6" />
<line x1="154.3" y1="348.5" x2="156.3" y2="348.5" stroke="#444" stroke-width="0.6" />
<line x1="258.3" y1="348.5" x2="256.3" y2="348.5" stroke="#444" stroke-width="0.6" />
<text x="152.3" y="416.6" font-size="5.4" text-anchor="end" fill="#111" font-family='"Liberation Sans", sans-serif' >0</text>
<text x="152.3" y="401.86" font-size="5.4" text-anchor="end" fill="#111" font-family='"Liberation Sans", sans-serif' >0.1</text>
<text x="152.3" y="387.12" font-size="5.4" text-anchor="end" fill="#111" font-family='"Liberation Sans", sans-serif' >0.2</text>
<text x="152.3" y="372.38" font-size="5.4" text-anchor="end" fill="#111" font-family='"Liberation Sans", sans-serif' >0.3</text>
<text x="152.3" y="357.64" font-size="5.4" text-anchor="end" fill="#111" font-family='"Liberation Sans", sans-serif' >0.4</text>
<text x="152.3" y="342.9" font-size="5.4" text-anchor="end" fill="#111" font-family='"Liberation Sans", sans-serif' >0.5</text>
<text x="154.3" y="420.8" font-size="5.4" text-anchor="middle" fill="#111" font-family='"Liberation Sans", sans-serif' >1</text>
<text x="188.6" y="420.8" font-size="5.4" text-anchor="middle" fill="#111" font-family='"Liberation Sans", sans-serif' >10</text>
<text x="222.9" y="420.8" font-size="5.4" text-anchor="middle" fill="#111" font-family='"Liberation Sans", sans-serif' >100</text>
<text x="257.2" y="420.8" font-size="5.4" text-anchor="middle" fill="#111" font-family='"Liberation Sans", sans-serif' >1000</text>
<text x="185.8" y="426.2" font-size="5.2" text-anchor="start" fill="#333" font-family='"Liberation Sans", sans-serif' >Number of paths,</text>
<text x="226.6" y="425.8" font-size="5.5" text-anchor="start" fill="#999" font-family='"Liberation Serif", serif' font-style="italic" >φ</text>
<text x="230" y="426.2" font-size="3.5" text-anchor="start" fill="#999" font-family='"Liberation Serif", serif' font-style="italic" >i</text>
<g transform="translate(144.2,380.2) rotate(-90)">
<text x="0" y="0" font-size="5.8" fill="#888" font-family='"Liberation Serif", serif' font-style="italic">σF<tspan font-size="3.8" dy="1">i</tspan></text>
</g>
<path d="M154.3 347.1 L157.1 348.13 L167.24 350.04 L172.31 350.04 L177.38 355.94 L182.45 362.87 L187.52 364.19 L192.59 369.5 L197.66 370.68 L202.73 370.68 L207.8 367.73 L212.87 370.68 L217.94 377.31 L223.01 388.66 L228.08 396.33 L233.15 396.33 L238.22 398.54 L243.29 406.79 L248.36 414.61 L253.43 414.61" fill="none" stroke="#dcbfe6" stroke-width="0.7"/>
<path d="M154.3 375.1 L157.1 375.54 L167.24 380.56 L172.31 376.58 L177.38 378.05 L182.45 377.31 L187.52 375.1 L192.59 373.63 L197.66 372.89 L202.73 372.15 L207.8 374.81 L212.87 378.05 L217.94 386.89 L223.01 396.33 L228.08 405.47 L233.15 407.24 L238.22 409.45 L243.29 412.69 L248.36 414.75 L253.43 414.75" fill="none" stroke="#f2b0b6" stroke-width="0.7"/>
<path d="M157.1 346.33L158.9 348.13L157.1 349.93L155.3 348.13Z" fill="#8d5cae"/>
<path d="M167.24 348.24L169.04 350.04L167.24 351.84L165.44 350.04Z" fill="#8d5cae"/>
<path d="M172.31 348.24L174.11 350.04L172.31 351.84L170.51 350.04Z" fill="#8d5cae"/>
<path d="M177.38 354.14L179.18 355.94L177.38 357.74L175.58 355.94Z" fill="#8d5cae"/>
<path d="M182.45 361.07L184.25 362.87L182.45 364.67L180.65 362.87Z" fill="#8d5cae"/>
<path d="M187.52 362.39L189.32 364.19L187.52 365.99L185.72 364.19Z" fill="#8d5cae"/>
<path d="M192.59 367.7L194.39 369.5L192.59 371.3L190.79 369.5Z" fill="#8d5cae"/>
<path d="M197.66 368.88L199.46 370.68L197.66 372.48L195.86 370.68Z" fill="#8d5cae"/>
<path d="M202.73 368.88L204.53 370.68L202.73 372.48L200.93 370.68Z" fill="#8d5cae"/>
<path d="M207.8 365.93L209.6 367.73L207.8 369.53L206 367.73Z" fill="#8d5cae"/>
<path d="M212.87 368.88L214.67 370.68L212.87 372.48L211.07 370.68Z" fill="#8d5cae"/>
<path d="M217.94 375.51L219.74 377.31L217.94 379.11L216.14 377.31Z" fill="#8d5cae"/>
<path d="M223.01 386.86L224.81 388.66L223.01 390.46L221.21 388.66Z" fill="#8d5cae"/>
<path d="M228.08 394.53L229.88 396.33L228.08 398.13L226.28 396.33Z" fill="#8d5cae"/>
<path d="M233.15 394.53L234.95 396.33L233.15 398.13L231.35 396.33Z" fill="#8d5cae"/>
<path d="M238.22 396.74L240.02 398.54L238.22 400.34L236.42 398.54Z" fill="#8d5cae"/>
<path d="M243.29 404.99L245.09 406.79L243.29 408.59L241.49 406.79Z" fill="#8d5cae"/>
<path d="M248.36 412.81L250.16 414.61L248.36 416.41L246.56 414.61Z" fill="#8d5cae"/>
<path d="M253.43 412.81L255.23 414.61L253.43 416.41L251.63 414.61Z" fill="#8d5cae"/>
<rect x="155.55" y="373.99" width="3.1" height="3.1" fill="#DD1C26" stroke="none" stroke-width="1"/>
<rect x="165.69" y="379.01" width="3.1" height="3.1" fill="#DD1C26" stroke="none" stroke-width="1"/>
<rect x="170.76" y="375.03" width="3.1" height="3.1" fill="#DD1C26" stroke="none" stroke-width="1"/>
<rect x="175.83" y="376.5" width="3.1" height="3.1" fill="#DD1C26" stroke="none" stroke-width="1"/>
<rect x="180.9" y="375.76" width="3.1" height="3.1" fill="#DD1C26" stroke="none" stroke-width="1"/>
<rect x="185.97" y="373.55" width="3.1" height="3.1" fill="#DD1C26" stroke="none" stroke-width="1"/>
<rect x="191.04" y="372.08" width="3.1" height="3.1" fill="#DD1C26" stroke="none" stroke-width="1"/>
<rect x="196.11" y="371.34" width="3.1" height="3.1" fill="#DD1C26" stroke="none" stroke-width="1"/>
<rect x="201.18" y="370.6" width="3.1" height="3.1" fill="#DD1C26" stroke="none" stroke-width="1"/>
<rect x="206.25" y="373.26" width="3.1" height="3.1" fill="#DD1C26" stroke="none" stroke-width="1"/>
<rect x="211.32" y="376.5" width="3.1" height="3.1" fill="#DD1C26" stroke="none" stroke-width="1"/>
<rect x="216.39" y="385.34" width="3.1" height="3.1" fill="#DD1C26" stroke="none" stroke-width="1"/>
<rect x="221.46" y="394.78" width="3.1" height="3.1" fill="#DD1C26" stroke="none" stroke-width="1"/>
<rect x="226.53" y="403.92" width="3.1" height="3.1" fill="#DD1C26" stroke="none" stroke-width="1"/>
<rect x="231.6" y="405.69" width="3.1" height="3.1" fill="#DD1C26" stroke="none" stroke-width="1"/>
<rect x="236.67" y="407.9" width="3.1" height="3.1" fill="#DD1C26" stroke="none" stroke-width="1"/>
<rect x="241.74" y="411.14" width="3.1" height="3.1" fill="#DD1C26" stroke="none" stroke-width="1"/>
<rect x="246.81" y="413.2" width="3.1" height="3.1" fill="#DD1C26" stroke="none" stroke-width="1"/>
<rect x="251.88" y="413.2" width="3.1" height="3.1" fill="#DD1C26" stroke="none" stroke-width="1"/>
<rect x="33.5" y="491.5" width="231" height="165" fill="none" stroke="#333" stroke-width="1.2"/>
<line x1="33.5" y1="656.4" x2="33.5" y2="647.4" stroke="#333" stroke-width="1" />
<line x1="33.5" y1="491.8" x2="33.5" y2="500.8" stroke="#333" stroke-width="1" />
<line x1="133.5" y1="656.4" x2="133.5" y2="647.4" stroke="#333" stroke-width="1" />
<line x1="133.5" y1="491.8" x2="133.5" y2="500.8" stroke="#333" stroke-width="1" />
<line x1="234.5" y1="656.4" x2="234.5" y2="647.4" stroke="#333" stroke-width="1" />
<line x1="234.5" y1="491.8" x2="234.5" y2="500.8" stroke="#333" stroke-width="1" />
<line x1="63.5" y1="656.4" x2="63.5" y2="651.9" stroke="#333" stroke-width="1" />
<line x1="63.5" y1="491.8" x2="63.5" y2="496.3" stroke="#333" stroke-width="1" />
<line x1="81.5" y1="656.4" x2="81.5" y2="651.9" stroke="#333" stroke-width="1" />
<line x1="81.5" y1="491.8" x2="81.5" y2="496.3" stroke="#333" stroke-width="1" />
<line x1="93.5" y1="656.4" x2="93.5" y2="651.9" stroke="#333" stroke-width="1" />
<line x1="93.5" y1="491.8" x2="93.5" y2="496.3" stroke="#333" stroke-width="1" />
<line x1="103.5" y1="656.4" x2="103.5" y2="651.9" stroke="#333" stroke-width="1" />
<line x1="103.5" y1="491.8" x2="103.5" y2="496.3" stroke="#333" stroke-width="1" />
<line x1="111.5" y1="656.4" x2="111.5" y2="651.9" stroke="#333" stroke-width="1" />
<line x1="111.5" y1="491.8" x2="111.5" y2="496.3" stroke="#333" stroke-width="1" />
<line x1="118.5" y1="656.4" x2="118.5" y2="651.9" stroke="#333" stroke-width="1" />
<line x1="118.5" y1="491.8" x2="118.5" y2="496.3" stroke="#333" stroke-width="1" />
<line x1="123.5" y1="656.4" x2="123.5" y2="651.9" stroke="#333" stroke-width="1" />
<line x1="123.5" y1="491.8" x2="123.5" y2="496.3" stroke="#333" stroke-width="1" />
<line x1="129.5" y1="656.4" x2="129.5" y2="651.9" stroke="#333" stroke-width="1" />
<line x1="129.5" y1="491.8" x2="129.5" y2="496.3" stroke="#333" stroke-width="1" />
<line x1="163.5" y1="656.4" x2="163.5" y2="651.9" stroke="#333" stroke-width="1" />
<line x1="163.5" y1="491.8" x2="163.5" y2="496.3" stroke="#333" stroke-width="1" />
<line x1="181.5" y1="656.4" x2="181.5" y2="651.9" stroke="#333" stroke-width="1" />
<line x1="181.5" y1="491.8" x2="181.5" y2="496.3" stroke="#333" stroke-width="1" />
<line x1="194.5" y1="656.4" x2="194.5" y2="651.9" stroke="#333" stroke-width="1" />
<line x1="194.5" y1="491.8" x2="194.5" y2="496.3" stroke="#333" stroke-width="1" />
<line x1="203.5" y1="656.4" x2="203.5" y2="651.9" stroke="#333" stroke-width="1" />
<line x1="203.5" y1="491.8" x2="203.5" y2="496.3" stroke="#333" stroke-width="1" />
<line x1="211.5" y1="656.4" x2="211.5" y2="651.9" stroke="#333" stroke-width="1" />
<line x1="211.5" y1="491.8" x2="211.5" y2="496.3" stroke="#333" stroke-width="1" />
<line x1="218.5" y1="656.4" x2="218.5" y2="651.9" stroke="#333" stroke-width="1" />
<line x1="218.5" y1="491.8" x2="218.5" y2="496.3" stroke="#333" stroke-width="1" />
<line x1="224.5" y1="656.4" x2="224.5" y2="651.9" stroke="#333" stroke-width="1" />
<line x1="224.5" y1="491.8" x2="224.5" y2="496.3" stroke="#333" stroke-width="1" />
<line x1="229.5" y1="656.4" x2="229.5" y2="651.9" stroke="#333" stroke-width="1" />
<line x1="229.5" y1="491.8" x2="229.5" y2="496.3" stroke="#333" stroke-width="1" />
<line x1="264.5" y1="656.4" x2="264.5" y2="651.9" stroke="#333" stroke-width="1" />
<line x1="264.5" y1="491.8" x2="264.5" y2="496.3" stroke="#333" stroke-width="1" />
<line x1="33.3" y1="656.5" x2="42.3" y2="656.5" stroke="#333" stroke-width="1" />
<line x1="33.3" y1="581.5" x2="42.3" y2="581.5" stroke="#333" stroke-width="1" />
<line x1="33.3" y1="506.5" x2="42.3" y2="506.5" stroke="#333" stroke-width="1" />
<line x1="33.3" y1="618.5" x2="37.8" y2="618.5" stroke="#333" stroke-width="1" />
<line x1="33.3" y1="543.5" x2="37.8" y2="543.5" stroke="#333" stroke-width="1" />
<text x="33.2" y="667.2" font-size="9" text-anchor="middle" fill="#222" font-family='"Liberation Sans", sans-serif' >1</text>
<text x="133.7" y="667.2" font-size="9" text-anchor="middle" fill="#222" font-family='"Liberation Sans", sans-serif' >10</text>
<text x="234.2" y="667.2" font-size="9" text-anchor="middle" fill="#222" font-family='"Liberation Sans", sans-serif' >100</text>
<text x="28.3" y="658.8" font-size="9" text-anchor="end" fill="#222" font-family='"Liberation Sans", sans-serif' >0</text>
<text x="28.3" y="583.7" font-size="9" text-anchor="end" fill="#222" font-family='"Liberation Sans", sans-serif' >0.5</text>
<text x="28.3" y="508.6" font-size="9" text-anchor="end" fill="#222" font-family='"Liberation Sans", sans-serif' >1</text>
<text x="100" y="484.3" font-size="12.2" text-anchor="start" fill="#222" font-family='"Liberation Sans", sans-serif' >SF(2.5, 8, 15 000)</text>
<text x="3.2" y="502" font-size="16" fill="#111" font-family='"Liberation Sans", sans-serif'>C<tspan dx="0.1">)</tspan></text>
<path d="M38.6 629.1 L60.8 608.6 L83 589.4 L94.1 575.9 L105.2 563.7 L116.3 551.4 L127.4 537.4 L138.5 525.2 L149.6 513.6 L160.7 508.5 L171.8 506.8 L182.9 506.6 L194 506.4 L205.1 506.4 L216.2 506.4 L227.3 506.4 L238.4 506.4 L249.5 506.4" fill="none" stroke="#4f6a88" stroke-width="0.9" stroke-dasharray="0.9 2.2"/>
<path d="M38.6 603.2 L60.8 573.5 L83 553.2 L94.1 540.9 L105.2 532 L116.3 523.3 L127.4 516.8 L138.5 512.6 L149.6 509.2 L160.7 507.6 L171.8 506.6 L182.9 506.5 L194 506.4 L205.1 506.4 L216.2 506.4 L227.3 506.4 L238.4 506.4 L249.5 506.4" fill="none" stroke="#7a5a8c" stroke-width="0.9" stroke-dasharray="0.9 2.2"/>
<path d="M38.6 626.8 L60.8 603.4 L83 583.4 L94.1 568.9 L105.2 556.7 L116.3 543.9 L127.4 530.8 L138.5 519.8 L149.6 511.2 L160.7 507.7 L171.8 506.5 L182.9 506.4 L194 506.4 L205.1 506.4 L216.2 506.4 L227.3 506.4 L238.4 506.4 L249.5 506.4" fill="none" stroke="#a05a62" stroke-width="0.9" stroke-dasharray="0.9 2.2"/>
<path d="M38.6 625.44L42 631.54L35.2 631.54Z" fill="#3272B0"/>
<path d="M60.8 604.94L64.2 611.04L57.4 611.04Z" fill="#3272B0"/>
<path d="M83 585.74L86.4 591.84L79.6 591.84Z" fill="#3272B0"/>
<path d="M94.1 572.24L97.5 578.34L90.7 578.34Z" fill="#3272B0"/>
<path d="M105.2 560.04L108.6 566.14L101.8 566.14Z" fill="#3272B0"/>
<path d="M116.3 547.74L119.7 553.84L112.9 553.84Z" fill="#3272B0"/>
<path d="M127.4 533.74L130.8 539.84L124 539.84Z" fill="#3272B0"/>
<path d="M138.5 521.54L141.9 527.64L135.1 527.64Z" fill="#3272B0"/>
<path d="M149.6 509.94L153 516.04L146.2 516.04Z" fill="#3272B0"/>
<path d="M160.7 504.84L164.1 510.94L157.3 510.94Z" fill="#3272B0"/>
<path d="M171.8 503.14L175.2 509.24L168.4 509.24Z" fill="#3272B0"/>
<path d="M182.9 502.94L186.3 509.04L179.5 509.04Z" fill="#3272B0"/>
<path d="M194 502.74L197.4 508.84L190.6 508.84Z" fill="#3272B0"/>
<path d="M205.1 502.74L208.5 508.84L201.7 508.84Z" fill="#3272B0"/>
<path d="M216.2 502.74L219.6 508.84L212.8 508.84Z" fill="#3272B0"/>
<path d="M227.3 502.74L230.7 508.84L223.9 508.84Z" fill="#3272B0"/>
<path d="M238.4 502.74L241.8 508.84L235 508.84Z" fill="#3272B0"/>
<path d="M249.5 502.74L252.9 508.84L246.1 508.84Z" fill="#3272B0"/>
<path d="M38.6 599.7L42.1 603.2L38.6 606.7L35.1 603.2Z" fill="#9548B0"/>
<path d="M60.8 570L64.3 573.5L60.8 577L57.3 573.5Z" fill="#9548B0"/>
<path d="M83 549.7L86.5 553.2L83 556.7L79.5 553.2Z" fill="#9548B0"/>
<path d="M94.1 537.4L97.6 540.9L94.1 544.4L90.6 540.9Z" fill="#9548B0"/>
<path d="M105.2 528.5L108.7 532L105.2 535.5L101.7 532Z" fill="#9548B0"/>
<path d="M116.3 519.8L119.8 523.3L116.3 526.8L112.8 523.3Z" fill="#9548B0"/>
<path d="M127.4 513.3L130.9 516.8L127.4 520.3L123.9 516.8Z" fill="#9548B0"/>
<path d="M138.5 509.1L142 512.6L138.5 516.1L135 512.6Z" fill="#9548B0"/>
<path d="M149.6 505.7L153.1 509.2L149.6 512.7L146.1 509.2Z" fill="#9548B0"/>
<rect x="35.6" y="623.8" width="6" height="6" fill="#DD1C26" stroke="none" stroke-width="1"/>
<rect x="57.8" y="600.4" width="6" height="6" fill="#DD1C26" stroke="none" stroke-width="1"/>
<rect x="80" y="580.4" width="6" height="6" fill="#DD1C26" stroke="none" stroke-width="1"/>
<rect x="91.1" y="565.9" width="6" height="6" fill="#DD1C26" stroke="none" stroke-width="1"/>
<rect x="102.2" y="553.7" width="6" height="6" fill="#DD1C26" stroke="none" stroke-width="1"/>
<rect x="113.3" y="540.9" width="6" height="6" fill="#DD1C26" stroke="none" stroke-width="1"/>
<rect x="124.4" y="527.8" width="6" height="6" fill="#DD1C26" stroke="none" stroke-width="1"/>
<rect x="135.5" y="516.8" width="6" height="6" fill="#DD1C26" stroke="none" stroke-width="1"/>
<rect x="146.6" y="508.2" width="6" height="6" fill="#DD1C26" stroke="none" stroke-width="1"/>
<rect x="157.7" y="504.7" width="6" height="6" fill="#DD1C26" stroke="none" stroke-width="1"/>
<rect x="168.8" y="503.5" width="6" height="6" fill="#DD1C26" stroke="none" stroke-width="1"/>
<rect x="179.9" y="503.4" width="6" height="6" fill="#DD1C26" stroke="none" stroke-width="1"/>
<rect x="191" y="503.4" width="6" height="6" fill="#DD1C26" stroke="none" stroke-width="1"/>
<rect x="202.1" y="503.4" width="6" height="6" fill="#DD1C26" stroke="none" stroke-width="1"/>
<rect x="213.2" y="503.4" width="6" height="6" fill="#DD1C26" stroke="none" stroke-width="1"/>
<rect x="224.3" y="503.4" width="6" height="6" fill="#DD1C26" stroke="none" stroke-width="1"/>
<rect x="235.4" y="503.4" width="6" height="6" fill="#DD1C26" stroke="none" stroke-width="1"/>
<rect x="246.5" y="503.4" width="6" height="6" fill="#DD1C26" stroke="none" stroke-width="1"/>
<rect x="132.7" y="545.3" width="126.9" height="90.5" fill="#fff" stroke="none" stroke-width="1"/>
<rect x="132.5" y="545.5" width="127" height="90" fill="none" stroke="#555" stroke-width="0.8"/>
<line x1="132.5" y1="635.8" x2="132.5" y2="631.3" stroke="#444" stroke-width="0.6" />
<line x1="132.5" y1="545.3" x2="132.5" y2="549.8" stroke="#444" stroke-width="0.6" />
<line x1="187.5" y1="635.8" x2="187.5" y2="631.3" stroke="#444" stroke-width="0.6" />
<line x1="187.5" y1="545.3" x2="187.5" y2="549.8" stroke="#444" stroke-width="0.6" />
<line x1="242.5" y1="635.8" x2="242.5" y2="631.3" stroke="#444" stroke-width="0.6" />
<line x1="242.5" y1="545.3" x2="242.5" y2="549.8" stroke="#444" stroke-width="0.6" />
<line x1="149.5" y1="635.8" x2="149.5" y2="633.3" stroke="#444" stroke-width="0.6" />
<line x1="149.5" y1="545.3" x2="149.5" y2="547.8" stroke="#444" stroke-width="0.6" />
<line x1="158.5" y1="635.8" x2="158.5" y2="633.3" stroke="#444" stroke-width="0.6" />
<line x1="158.5" y1="545.3" x2="158.5" y2="547.8" stroke="#444" stroke-width="0.6" />
<line x1="165.5" y1="635.8" x2="165.5" y2="633.3" stroke="#444" stroke-width="0.6" />
<line x1="165.5" y1="545.3" x2="165.5" y2="547.8" stroke="#444" stroke-width="0.6" />
<line x1="171.5" y1="635.8" x2="171.5" y2="633.3" stroke="#444" stroke-width="0.6" />
<line x1="171.5" y1="545.3" x2="171.5" y2="547.8" stroke="#444" stroke-width="0.6" />
<line x1="175.5" y1="635.8" x2="175.5" y2="633.3" stroke="#444" stroke-width="0.6" />
<line x1="175.5" y1="545.3" x2="175.5" y2="547.8" stroke="#444" stroke-width="0.6" />
<line x1="179.5" y1="635.8" x2="179.5" y2="633.3" stroke="#444" stroke-width="0.6" />
<line x1="179.5" y1="545.3" x2="179.5" y2="547.8" stroke="#444" stroke-width="0.6" />
<line x1="182.5" y1="635.8" x2="182.5" y2="633.3" stroke="#444" stroke-width="0.6" />
<line x1="182.5" y1="545.3" x2="182.5" y2="547.8" stroke="#444" stroke-width="0.6" />
<line x1="185.5" y1="635.8" x2="185.5" y2="633.3" stroke="#444" stroke-width="0.6" />
<line x1="185.5" y1="545.3" x2="185.5" y2="547.8" stroke="#444" stroke-width="0.6" />
<line x1="204.5" y1="635.8" x2="204.5" y2="633.3" stroke="#444" stroke-width="0.6" />
<line x1="204.5" y1="545.3" x2="204.5" y2="547.8" stroke="#444" stroke-width="0.6" />
<line x1="213.5" y1="635.8" x2="213.5" y2="633.3" stroke="#444" stroke-width="0.6" />
<line x1="213.5" y1="545.3" x2="213.5" y2="547.8" stroke="#444" stroke-width="0.6" />
<line x1="220.5" y1="635.8" x2="220.5" y2="633.3" stroke="#444" stroke-width="0.6" />
<line x1="220.5" y1="545.3" x2="220.5" y2="547.8" stroke="#444" stroke-width="0.6" />
<line x1="226.5" y1="635.8" x2="226.5" y2="633.3" stroke="#444" stroke-width="0.6" />
<line x1="226.5" y1="545.3" x2="226.5" y2="547.8" stroke="#444" stroke-width="0.6" />
<line x1="230.5" y1="635.8" x2="230.5" y2="633.3" stroke="#444" stroke-width="0.6" />
<line x1="230.5" y1="545.3" x2="230.5" y2="547.8" stroke="#444" stroke-width="0.6" />
<line x1="234.5" y1="635.8" x2="234.5" y2="633.3" stroke="#444" stroke-width="0.6" />
<line x1="234.5" y1="545.3" x2="234.5" y2="547.8" stroke="#444" stroke-width="0.6" />
<line x1="237.5" y1="635.8" x2="237.5" y2="633.3" stroke="#444" stroke-width="0.6" />
<line x1="237.5" y1="545.3" x2="237.5" y2="547.8" stroke="#444" stroke-width="0.6" />
<line x1="240.5" y1="635.8" x2="240.5" y2="633.3" stroke="#444" stroke-width="0.6" />
<line x1="240.5" y1="545.3" x2="240.5" y2="547.8" stroke="#444" stroke-width="0.6" />
<line x1="259.5" y1="635.8" x2="259.5" y2="633.3" stroke="#444" stroke-width="0.6" />
<line x1="259.5" y1="545.3" x2="259.5" y2="547.8" stroke="#444" stroke-width="0.6" />
<line x1="132.7" y1="635.5" x2="137.2" y2="635.5" stroke="#444" stroke-width="0.6" />
<line x1="259.6" y1="635.5" x2="255.1" y2="635.5" stroke="#444" stroke-width="0.6" />
<line x1="132.7" y1="613.5" x2="137.2" y2="613.5" stroke="#444" stroke-width="0.6" />
<line x1="259.6" y1="613.5" x2="255.1" y2="613.5" stroke="#444" stroke-width="0.6" />
<line x1="132.7" y1="590.5" x2="137.2" y2="590.5" stroke="#444" stroke-width="0.6" />
<line x1="259.6" y1="590.5" x2="255.1" y2="590.5" stroke="#444" stroke-width="0.6" />
<line x1="132.7" y1="567.5" x2="137.2" y2="567.5" stroke="#444" stroke-width="0.6" />
<line x1="259.6" y1="567.5" x2="255.1" y2="567.5" stroke="#444" stroke-width="0.6" />
<line x1="132.7" y1="545.5" x2="137.2" y2="545.5" stroke="#444" stroke-width="0.6" />
<line x1="259.6" y1="545.5" x2="255.1" y2="545.5" stroke="#444" stroke-width="0.6" />
<line x1="132.7" y1="624.5" x2="135.2" y2="624.5" stroke="#444" stroke-width="0.6" />
<line x1="259.6" y1="624.5" x2="257.1" y2="624.5" stroke="#444" stroke-width="0.6" />
<line x1="132.7" y1="601.5" x2="135.2" y2="601.5" stroke="#444" stroke-width="0.6" />
<line x1="259.6" y1="601.5" x2="257.1" y2="601.5" stroke="#444" stroke-width="0.6" />
<line x1="132.7" y1="579.5" x2="135.2" y2="579.5" stroke="#444" stroke-width="0.6" />
<line x1="259.6" y1="579.5" x2="257.1" y2="579.5" stroke="#444" stroke-width="0.6" />
<line x1="132.7" y1="556.5" x2="135.2" y2="556.5" stroke="#444" stroke-width="0.6" />
<line x1="259.6" y1="556.5" x2="257.1" y2="556.5" stroke="#444" stroke-width="0.6" />
<text x="130.7" y="637.5" font-size="5.4" text-anchor="end" fill="#111" font-family='"Liberation Sans", sans-serif' >0</text>
<text x="130.7" y="614.88" font-size="5.4" text-anchor="end" fill="#111" font-family='"Liberation Sans", sans-serif' >0.1</text>
<text x="130.7" y="592.25" font-size="5.4" text-anchor="end" fill="#111" font-family='"Liberation Sans", sans-serif' >0.2</text>
<text x="130.7" y="569.62" font-size="5.4" text-anchor="end" fill="#111" font-family='"Liberation Sans", sans-serif' >0.3</text>
<text x="130.7" y="547" font-size="5.4" text-anchor="end" fill="#111" font-family='"Liberation Sans", sans-serif' >0.4</text>
<text x="132.7" y="641.8" font-size="5.4" text-anchor="middle" fill="#111" font-family='"Liberation Sans", sans-serif' >1</text>
<text x="187.7" y="641.8" font-size="5.4" text-anchor="middle" fill="#111" font-family='"Liberation Sans", sans-serif' >10</text>
<text x="242.7" y="641.8" font-size="5.4" text-anchor="middle" fill="#111" font-family='"Liberation Sans", sans-serif' >100</text>
<text x="170.6" y="650" font-size="6.6" text-anchor="start" fill="#333" font-family='"Liberation Sans", sans-serif' >Number of paths,</text>
<text x="222.3" y="649.5" font-size="6.5" text-anchor="start" fill="#999" font-family='"Liberation Serif", serif' font-style="italic" >φ</text>
<text x="226.3" y="650" font-size="4" text-anchor="start" fill="#999" font-family='"Liberation Serif", serif' font-style="italic" >i</text>
<g transform="translate(119.8,594.2) rotate(-90)">
<text x="0" y="0" font-size="5.8" fill="#888" font-family='"Liberation Serif", serif' font-style="italic">σF<tspan font-size="3.8" dy="1">i</tspan></text>
</g>
<path d="M132.7 552.09 L135.7 549.15 L147.86 545.75 L160.02 552.31 L166.1 559.55 L172.18 567.92 L178.26 579.24 L184.34 587.16 L190.42 596.21 L196.5 608.65 L202.58 617.02 L208.66 620.19 L214.74 630.14 L220.82 635.35 L226.9 635.57 L232.98 635.57 L239.06 635.57 L245.14 635.57 L251.22 635.57" fill="none" stroke="#dcbfe6" stroke-width="0.7"/>
<path d="M132.7 599.6 L135.7 595.3 L147.86 582.63 L160.02 577.43 L166.1 575.84 L172.18 576.52 L178.26 580.82 L184.34 589.19 L190.42 599.83 L196.5 614.31 L202.58 624.49 L208.66 631.5 L214.74 635.35 L220.82 635.57 L226.9 635.57 L232.98 635.57 L239.06 635.57 L245.14 635.57 L251.22 635.57" fill="none" stroke="#f2b0b6" stroke-width="0.7"/>
<path d="M135.7 547.05L137.8 549.15L135.7 551.25L133.6 549.15Z" fill="#7d4896"/>
<path d="M147.86 543.65L149.96 545.75L147.86 547.85L145.76 545.75Z" fill="#7d4896"/>
<path d="M160.02 550.21L162.12 552.31L160.02 554.41L157.92 552.31Z" fill="#7d4896"/>
<path d="M166.1 557.45L168.2 559.55L166.1 561.65L164 559.55Z" fill="#7d4896"/>
<path d="M172.18 565.82L174.28 567.92L172.18 570.02L170.08 567.92Z" fill="#7d4896"/>
<path d="M178.26 577.14L180.36 579.24L178.26 581.34L176.16 579.24Z" fill="#7d4896"/>
<path d="M184.34 585.06L186.44 587.16L184.34 589.26L182.24 587.16Z" fill="#7d4896"/>
<path d="M190.42 594.11L192.52 596.21L190.42 598.31L188.32 596.21Z" fill="#7d4896"/>
<path d="M196.5 606.55L198.6 608.65L196.5 610.75L194.4 608.65Z" fill="#7d4896"/>
<path d="M202.58 614.92L204.68 617.02L202.58 619.12L200.48 617.02Z" fill="#7d4896"/>
<path d="M208.66 618.09L210.76 620.19L208.66 622.29L206.56 620.19Z" fill="#7d4896"/>
<path d="M214.74 628.04L216.84 630.14L214.74 632.24L212.64 630.14Z" fill="#7d4896"/>
<path d="M220.82 633.25L222.92 635.35L220.82 637.45L218.72 635.35Z" fill="#7d4896"/>
<path d="M226.9 633.47L229 635.57L226.9 637.67L224.8 635.57Z" fill="#7d4896"/>
<path d="M232.98 633.47L235.08 635.57L232.98 637.67L230.88 635.57Z" fill="#7d4896"/>
<path d="M239.06 633.47L241.16 635.57L239.06 637.67L236.96 635.57Z" fill="#7d4896"/>
<path d="M245.14 633.47L247.24 635.57L245.14 637.67L243.04 635.57Z" fill="#7d4896"/>
<path d="M251.22 633.47L253.32 635.57L251.22 637.67L249.12 635.57Z" fill="#7d4896"/>
<path d="M178.26 576.29L180.16 579.69L176.36 579.69Z" fill="#3272B0"/>
<path d="M184.34 582.4L186.24 585.8L182.44 585.8Z" fill="#3272B0"/>
<path d="M190.42 592.13L192.32 595.53L188.52 595.53Z" fill="#3272B0"/>
<path d="M196.5 606.61L198.4 610.01L194.6 610.01Z" fill="#3272B0"/>
<path d="M202.58 620.64L204.48 624.04L200.68 624.04Z" fill="#3272B0"/>
<path d="M208.66 628.1L210.56 631.5L206.76 631.5Z" fill="#3272B0"/>
<rect x="134" y="593.6" width="3.4" height="3.4" fill="#DD1C26" stroke="none" stroke-width="1"/>
<rect x="146.16" y="580.93" width="3.4" height="3.4" fill="#DD1C26" stroke="none" stroke-width="1"/>
<rect x="158.32" y="575.73" width="3.4" height="3.4" fill="#DD1C26" stroke="none" stroke-width="1"/>
<rect x="164.4" y="574.14" width="3.4" height="3.4" fill="#DD1C26" stroke="none" stroke-width="1"/>
<rect x="170.48" y="574.82" width="3.4" height="3.4" fill="#DD1C26" stroke="none" stroke-width="1"/>
<rect x="176.56" y="579.12" width="3.4" height="3.4" fill="#DD1C26" stroke="none" stroke-width="1"/>
<rect x="182.64" y="587.49" width="3.4" height="3.4" fill="#DD1C26" stroke="none" stroke-width="1"/>
<rect x="188.72" y="598.13" width="3.4" height="3.4" fill="#DD1C26" stroke="none" stroke-width="1"/>
<rect x="194.8" y="612.61" width="3.4" height="3.4" fill="#DD1C26" stroke="none" stroke-width="1"/>
<rect x="200.88" y="622.79" width="3.4" height="3.4" fill="#DD1C26" stroke="none" stroke-width="1"/>
<rect x="206.96" y="629.8" width="3.4" height="3.4" fill="#DD1C26" stroke="none" stroke-width="1"/>
<rect x="213.04" y="633.65" width="3.4" height="3.4" fill="#DD1C26" stroke="none" stroke-width="1"/>
<rect x="219.12" y="633.87" width="3.4" height="3.4" fill="#DD1C26" stroke="none" stroke-width="1"/>
<rect x="225.2" y="633.87" width="3.4" height="3.4" fill="#DD1C26" stroke="none" stroke-width="1"/>
<rect x="231.28" y="633.87" width="3.4" height="3.4" fill="#DD1C26" stroke="none" stroke-width="1"/>
<rect x="237.36" y="633.87" width="3.4" height="3.4" fill="#DD1C26" stroke="none" stroke-width="1"/>
<rect x="243.44" y="633.87" width="3.4" height="3.4" fill="#DD1C26" stroke="none" stroke-width="1"/>
<rect x="249.52" y="633.87" width="3.4" height="3.4" fill="#DD1C26" stroke="none" stroke-width="1"/>
<g transform="translate(11.3,163.2) rotate(-90)">
<text x="0" y="0" font-size="11.6" text-anchor="start" fill="#222" font-family='"Liberation Sans", sans-serif' >Edge</text>
</g>
<g transform="translate(11.3,132.85) rotate(-90)">
<text x="0" y="0" font-size="12" text-anchor="start" fill="#222" font-family='"Liberation Sans", sans-serif' >flow,</text>
</g>
<g transform="translate(11.3,108.1) rotate(-90)">
<path d="M3 -9.5 L0.6 -4 L3 1.5" fill="none" stroke="#666" stroke-width="0.7"/>
<text x="3.6" y="-1.5" font-size="12" text-anchor="start" fill="#555" font-family='"Liberation Serif", serif' font-style="italic" >F</text>
<text x="10.4" y="-0.2" font-size="6.5" text-anchor="start" fill="#777" font-family='"Liberation Serif", serif' font-style="italic" >i</text>
<path d="M14.3 -9.5 L16.8 -4 L14.3 1.5" fill="none" stroke="#666" stroke-width="0.7"/>
</g>
<g transform="translate(11.3,388.9) rotate(-90)">
<text x="0" y="0" font-size="11.6" text-anchor="start" fill="#222" font-family='"Liberation Sans", sans-serif' >Edge</text>
</g>
<g transform="translate(11.3,359.05) rotate(-90)">
<text x="0" y="0" font-size="12" text-anchor="start" fill="#222" font-family='"Liberation Sans", sans-serif' >flow,</text>
</g>
<g transform="translate(11.3,334.3) rotate(-90)">
<path d="M3 -9.5 L0.6 -4 L3 1.5" fill="none" stroke="#666" stroke-width="0.7"/>
<text x="3.6" y="-1.5" font-size="12" text-anchor="start" fill="#555" font-family='"Liberation Serif", serif' font-style="italic" >F</text>
<text x="10.4" y="-0.2" font-size="6.5" text-anchor="start" fill="#777" font-family='"Liberation Serif", serif' font-style="italic" >i</text>
<path d="M14.3 -9.5 L16.8 -4 L14.3 1.5" fill="none" stroke="#666" stroke-width="0.7"/>
</g>
<g transform="translate(11.3,607.1) rotate(-90)">
<text x="0" y="0" font-size="11.6" text-anchor="start" fill="#222" font-family='"Liberation Sans", sans-serif' >Edge</text>
</g>
<g transform="translate(11.3,576.45) rotate(-90)">
<text x="0" y="0" font-size="12" text-anchor="start" fill="#222" font-family='"Liberation Sans", sans-serif' >flow,</text>
</g>
<g transform="translate(11.3,551.7) rotate(-90)">
<path d="M3 -9.5 L0.6 -4 L3 1.5" fill="none" stroke="#666" stroke-width="0.7"/>
<text x="3.6" y="-1.5" font-size="12" text-anchor="start" fill="#555" font-family='"Liberation Serif", serif' font-style="italic" >F</text>
<text x="10.4" y="-0.2" font-size="6.5" text-anchor="start" fill="#777" font-family='"Liberation Serif", serif' font-style="italic" >i</text>
<path d="M14.3 -9.5 L16.8 -4 L14.3 1.5" fill="none" stroke="#666" stroke-width="0.7"/>
</g>
<text x="93.8" y="234" font-size="12" text-anchor="start" fill="#222" font-family='"Liberation Sans", sans-serif' >Number of paths,</text>
<text x="188.1" y="232.2" font-size="12.5" text-anchor="start" fill="#8a8a8a" font-family='"Liberation Serif", serif' font-style="italic" >φ</text>
<text x="194.8" y="233.6" font-size="8.5" text-anchor="start" fill="#8a8a8a" font-family='"Liberation Serif", serif' font-style="italic" >i</text>
<text x="94" y="459.3" font-size="12" text-anchor="start" fill="#222" font-family='"Liberation Sans", sans-serif' >Number of paths,</text>
<text x="188.3" y="457.5" font-size="12.5" text-anchor="start" fill="#8a8a8a" font-family='"Liberation Serif", serif' font-style="italic" >φ</text>
<text x="195" y="458.9" font-size="8.5" text-anchor="start" fill="#8a8a8a" font-family='"Liberation Serif", serif' font-style="italic" >i</text>
<text x="94.3" y="680.8" font-size="12" text-anchor="start" fill="#222" font-family='"Liberation Sans", sans-serif' >Number of paths,</text>
<text x="188.6" y="679" font-size="12.5" text-anchor="start" fill="#8a8a8a" font-family='"Liberation Serif", serif' font-style="italic" >φ</text>
<text x="195.3" y="680.4" font-size="8.5" text-anchor="start" fill="#8a8a8a" font-family='"Liberation Serif", serif' font-style="italic" >i</text>
<text x="392.2" y="233.9" font-size="12" text-anchor="start" fill="#222" font-family='"Liberation Sans", sans-serif' >Number of paths,</text>
<text x="486.5" y="232.1" font-size="12.5" text-anchor="start" fill="#8a8a8a" font-family='"Liberation Serif", serif' font-style="italic" >φ</text>
<text x="493.2" y="233.5" font-size="8.5" text-anchor="start" fill="#8a8a8a" font-family='"Liberation Serif", serif' font-style="italic" >i</text>
<text x="393.2" y="458.9" font-size="12" text-anchor="start" fill="#222" font-family='"Liberation Sans", sans-serif' >Number of paths,</text>
<text x="487.5" y="457.1" font-size="12.5" text-anchor="start" fill="#8a8a8a" font-family='"Liberation Serif", serif' font-style="italic" >φ</text>
<text x="494.2" y="458.5" font-size="8.5" text-anchor="start" fill="#8a8a8a" font-family='"Liberation Serif", serif' font-style="italic" >i</text>
<text x="402.4" y="680.4" font-size="12" text-anchor="start" fill="#222" font-family='"Liberation Sans", sans-serif' >Number of paths,</text>
<text x="496.7" y="678.6" font-size="12.5" text-anchor="start" fill="#8a8a8a" font-family='"Liberation Serif", serif' font-style="italic" >φ</text>
<text x="503.4" y="680" font-size="8.5" text-anchor="start" fill="#8a8a8a" font-family='"Liberation Serif", serif' font-style="italic" >i</text>
<rect x="332.5" y="97.5" width="6" height="114.7" fill="#fff" stroke="#000" stroke-width="1"/>
<rect x="343.5" y="69.5" width="6" height="142.7" fill="#fff" stroke="#000" stroke-width="1"/>
<rect x="343" y="209.9" width="7" height="2.3" fill="#000" stroke="none" stroke-width="1"/>
<rect x="353.5" y="57.5" width="6" height="154.7" fill="#fff" stroke="#000" stroke-width="1"/>
<rect x="353" y="196.7" width="7" height="15.5" fill="#000" stroke="none" stroke-width="1"/>
<rect x="364.5" y="59.5" width="6" height="152.7" fill="#fff" stroke="#000" stroke-width="1"/>
<rect x="364" y="161.5" width="7" height="50.7" fill="#000" stroke="none" stroke-width="1"/>
<rect x="374.5" y="60.5" width="6" height="151.7" fill="#fff" stroke="#000" stroke-width="1"/>
<rect x="374" y="116.2" width="7" height="96" fill="#000" stroke="none" stroke-width="1"/>
<rect x="385.5" y="68.5" width="6" height="143.7" fill="#fff" stroke="#000" stroke-width="1"/>
<rect x="385" y="89.6" width="7" height="122.6" fill="#000" stroke="none" stroke-width="1"/>
<rect x="395.5" y="72.5" width="6" height="139.7" fill="#fff" stroke="#000" stroke-width="1"/>
<rect x="395" y="78.5" width="7" height="133.7" fill="#000" stroke="none" stroke-width="1"/>
<rect x="406.5" y="80.5" width="6" height="131.7" fill="#fff" stroke="#000" stroke-width="1"/>
<rect x="406" y="81.6" width="7" height="130.6" fill="#000" stroke="none" stroke-width="1"/>
<rect x="416.5" y="85.5" width="6" height="126.7" fill="#fff" stroke="#000" stroke-width="1"/>
<rect x="416" y="85.4" width="7" height="126.8" fill="#000" stroke="none" stroke-width="1"/>
<rect x="427.5" y="97.5" width="6" height="114.7" fill="#fff" stroke="#000" stroke-width="1"/>
<rect x="427" y="96.6" width="7" height="115.6" fill="#000" stroke="none" stroke-width="1"/>
<rect x="437.5" y="104.5" width="6" height="107.7" fill="#fff" stroke="#000" stroke-width="1"/>
<rect x="437" y="104.5" width="7" height="107.7" fill="#000" stroke="none" stroke-width="1"/>
<rect x="448.5" y="110.5" width="6" height="101.7" fill="#fff" stroke="#000" stroke-width="1"/>
<rect x="448" y="110" width="7" height="102.2" fill="#000" stroke="none" stroke-width="1"/>
<rect x="458.5" y="122.5" width="6" height="89.7" fill="#fff" stroke="#000" stroke-width="1"/>
<rect x="458" y="121.9" width="7" height="90.3" fill="#000" stroke="none" stroke-width="1"/>
<rect x="469.5" y="127.5" width="6" height="84.7" fill="#fff" stroke="#000" stroke-width="1"/>
<rect x="469" y="126.9" width="7" height="85.3" fill="#000" stroke="none" stroke-width="1"/>
<rect x="479.5" y="140.5" width="6" height="71.7" fill="#fff" stroke="#000" stroke-width="1"/>
<rect x="479" y="139.8" width="7" height="72.4" fill="#000" stroke="none" stroke-width="1"/>
<rect x="490.5" y="145.5" width="6" height="66.7" fill="#fff" stroke="#000" stroke-width="1"/>
<rect x="490" y="145" width="7" height="67.2" fill="#000" stroke="none" stroke-width="1"/>
<rect x="500.5" y="159.5" width="6" height="52.7" fill="#fff" stroke="#000" stroke-width="1"/>
<rect x="500" y="159.1" width="7" height="53.1" fill="#000" stroke="none" stroke-width="1"/>
<rect x="511.5" y="168.5" width="6" height="43.7" fill="#fff" stroke="#000" stroke-width="1"/>
<rect x="511" y="168.5" width="7" height="43.7" fill="#000" stroke="none" stroke-width="1"/>
<rect x="521.5" y="193.5" width="6" height="18.7" fill="#fff" stroke="#000" stroke-width="1"/>
<rect x="521" y="192.9" width="7" height="19.3" fill="#000" stroke="none" stroke-width="1"/>
<rect x="532.5" y="178.5" width="6" height="33.7" fill="#fff" stroke="#000" stroke-width="1"/>
<rect x="532" y="178" width="7" height="34.2" fill="#000" stroke="none" stroke-width="1"/>
<rect x="328.5" y="47.5" width="231" height="165" fill="none" stroke="#2a2a2a" stroke-width="1.2"/>
<line x1="328.5" y1="212.2" x2="328.5" y2="203.2" stroke="#333" stroke-width="1" />
<line x1="328.5" y1="47" x2="328.5" y2="56" stroke="#333" stroke-width="1" />
<line x1="424.5" y1="212.2" x2="424.5" y2="203.2" stroke="#333" stroke-width="1" />
<line x1="424.5" y1="47" x2="424.5" y2="56" stroke="#333" stroke-width="1" />
<line x1="520.5" y1="212.2" x2="520.5" y2="203.2" stroke="#333" stroke-width="1" />
<line x1="520.5" y1="47" x2="520.5" y2="56" stroke="#333" stroke-width="1" />
<line x1="338.5" y1="212.2" x2="338.5" y2="207.7" stroke="#333" stroke-width="1" />
<line x1="338.5" y1="47" x2="338.5" y2="51.5" stroke="#333" stroke-width="1" />
<line x1="347.5" y1="212.2" x2="347.5" y2="207.7" stroke="#333" stroke-width="1" />
<line x1="347.5" y1="47" x2="347.5" y2="51.5" stroke="#333" stroke-width="1" />
<line x1="357.5" y1="212.2" x2="357.5" y2="207.7" stroke="#333" stroke-width="1" />
<line x1="357.5" y1="47" x2="357.5" y2="51.5" stroke="#333" stroke-width="1" />
<line x1="366.5" y1="212.2" x2="366.5" y2="207.7" stroke="#333" stroke-width="1" />
<line x1="366.5" y1="47" x2="366.5" y2="51.5" stroke="#333" stroke-width="1" />
<line x1="376.5" y1="212.2" x2="376.5" y2="207.7" stroke="#333" stroke-width="1" />
<line x1="376.5" y1="47" x2="376.5" y2="51.5" stroke="#333" stroke-width="1" />
<line x1="386.5" y1="212.2" x2="386.5" y2="207.7" stroke="#333" stroke-width="1" />
<line x1="386.5" y1="47" x2="386.5" y2="51.5" stroke="#333" stroke-width="1" />
<line x1="395.5" y1="212.2" x2="395.5" y2="207.7" stroke="#333" stroke-width="1" />
<line x1="395.5" y1="47" x2="395.5" y2="51.5" stroke="#333" stroke-width="1" />
<line x1="405.5" y1="212.2" x2="405.5" y2="207.7" stroke="#333" stroke-width="1" />
<line x1="405.5" y1="47" x2="405.5" y2="51.5" stroke="#333" stroke-width="1" />
<line x1="415.5" y1="212.2" x2="415.5" y2="207.7" stroke="#333" stroke-width="1" />
<line x1="415.5" y1="47" x2="415.5" y2="51.5" stroke="#333" stroke-width="1" />
<line x1="434.5" y1="212.2" x2="434.5" y2="207.7" stroke="#333" stroke-width="1" />
<line x1="434.5" y1="47" x2="434.5" y2="51.5" stroke="#333" stroke-width="1" />
<line x1="443.5" y1="212.2" x2="443.5" y2="207.7" stroke="#333" stroke-width="1" />
<line x1="443.5" y1="47" x2="443.5" y2="51.5" stroke="#333" stroke-width="1" />
<line x1="453.5" y1="212.2" x2="453.5" y2="207.7" stroke="#333" stroke-width="1" />
<line x1="453.5" y1="47" x2="453.5" y2="51.5" stroke="#333" stroke-width="1" />
<line x1="463.5" y1="212.2" x2="463.5" y2="207.7" stroke="#333" stroke-width="1" />
<line x1="463.5" y1="47" x2="463.5" y2="51.5" stroke="#333" stroke-width="1" />
<line x1="472.5" y1="212.2" x2="472.5" y2="207.7" stroke="#333" stroke-width="1" />
<line x1="472.5" y1="47" x2="472.5" y2="51.5" stroke="#333" stroke-width="1" />
<line x1="482.5" y1="212.2" x2="482.5" y2="207.7" stroke="#333" stroke-width="1" />
<line x1="482.5" y1="47" x2="482.5" y2="51.5" stroke="#333" stroke-width="1" />
<line x1="491.5" y1="212.2" x2="491.5" y2="207.7" stroke="#333" stroke-width="1" />
<line x1="491.5" y1="47" x2="491.5" y2="51.5" stroke="#333" stroke-width="1" />
<line x1="501.5" y1="212.2" x2="501.5" y2="207.7" stroke="#333" stroke-width="1" />
<line x1="501.5" y1="47" x2="501.5" y2="51.5" stroke="#333" stroke-width="1" />
<line x1="511.5" y1="212.2" x2="511.5" y2="207.7" stroke="#333" stroke-width="1" />
<line x1="511.5" y1="47" x2="511.5" y2="51.5" stroke="#333" stroke-width="1" />
<line x1="530.5" y1="212.2" x2="530.5" y2="207.7" stroke="#333" stroke-width="1" />
<line x1="530.5" y1="47" x2="530.5" y2="51.5" stroke="#333" stroke-width="1" />
<line x1="539.5" y1="212.2" x2="539.5" y2="207.7" stroke="#333" stroke-width="1" />
<line x1="539.5" y1="47" x2="539.5" y2="51.5" stroke="#333" stroke-width="1" />
<line x1="549.5" y1="212.2" x2="549.5" y2="207.7" stroke="#333" stroke-width="1" />
<line x1="549.5" y1="47" x2="549.5" y2="51.5" stroke="#333" stroke-width="1" />
<line x1="328.5" y1="212.5" x2="337.5" y2="212.5" stroke="#333" stroke-width="1" />
<line x1="559.2" y1="212.5" x2="550.2" y2="212.5" stroke="#333" stroke-width="1" />
<line x1="328.5" y1="180.5" x2="337.5" y2="180.5" stroke="#333" stroke-width="1" />
<line x1="559.2" y1="180.5" x2="550.2" y2="180.5" stroke="#333" stroke-width="1" />
<line x1="328.5" y1="149.5" x2="337.5" y2="149.5" stroke="#333" stroke-width="1" />
<line x1="559.2" y1="149.5" x2="550.2" y2="149.5" stroke="#333" stroke-width="1" />
<line x1="328.5" y1="118.5" x2="337.5" y2="118.5" stroke="#333" stroke-width="1" />
<line x1="559.2" y1="118.5" x2="550.2" y2="118.5" stroke="#333" stroke-width="1" />
<line x1="328.5" y1="86.5" x2="337.5" y2="86.5" stroke="#333" stroke-width="1" />
<line x1="559.2" y1="86.5" x2="550.2" y2="86.5" stroke="#333" stroke-width="1" />
<line x1="328.5" y1="55.5" x2="337.5" y2="55.5" stroke="#333" stroke-width="1" />
<line x1="559.2" y1="55.5" x2="550.2" y2="55.5" stroke="#333" stroke-width="1" />
<line x1="328.5" y1="202.5" x2="333" y2="202.5" stroke="#333" stroke-width="1" />
<line x1="559.2" y1="202.5" x2="554.7" y2="202.5" stroke="#333" stroke-width="1" />
<line x1="328.5" y1="197.5" x2="333" y2="197.5" stroke="#333" stroke-width="1" />
<line x1="559.2" y1="197.5" x2="554.7" y2="197.5" stroke="#333" stroke-width="1" />
<line x1="328.5" y1="193.5" x2="333" y2="193.5" stroke="#333" stroke-width="1" />
<line x1="559.2" y1="193.5" x2="554.7" y2="193.5" stroke="#333" stroke-width="1" />
<line x1="328.5" y1="190.5" x2="333" y2="190.5" stroke="#333" stroke-width="1" />
<line x1="559.2" y1="190.5" x2="554.7" y2="190.5" stroke="#333" stroke-width="1" />
<line x1="328.5" y1="187.5" x2="333" y2="187.5" stroke="#333" stroke-width="1" />
<line x1="559.2" y1="187.5" x2="554.7" y2="187.5" stroke="#333" stroke-width="1" />
<line x1="328.5" y1="185.5" x2="333" y2="185.5" stroke="#333" stroke-width="1" />
<line x1="559.2" y1="185.5" x2="554.7" y2="185.5" stroke="#333" stroke-width="1" />
<line x1="328.5" y1="183.5" x2="333" y2="183.5" stroke="#333" stroke-width="1" />
<line x1="559.2" y1="183.5" x2="554.7" y2="183.5" stroke="#333" stroke-width="1" />
<line x1="328.5" y1="182.5" x2="333" y2="182.5" stroke="#333" stroke-width="1" />
<line x1="559.2" y1="182.5" x2="554.7" y2="182.5" stroke="#333" stroke-width="1" />
<line x1="328.5" y1="171.5" x2="333" y2="171.5" stroke="#333" stroke-width="1" />
<line x1="559.2" y1="171.5" x2="554.7" y2="171.5" stroke="#333" stroke-width="1" />
<line x1="328.5" y1="165.5" x2="333" y2="165.5" stroke="#333" stroke-width="1" />
<line x1="559.2" y1="165.5" x2="554.7" y2="165.5" stroke="#333" stroke-width="1" />
<line x1="328.5" y1="162.5" x2="333" y2="162.5" stroke="#333" stroke-width="1" />
<line x1="559.2" y1="162.5" x2="554.7" y2="162.5" stroke="#333" stroke-width="1" />
<line x1="328.5" y1="159.5" x2="333" y2="159.5" stroke="#333" stroke-width="1" />
<line x1="559.2" y1="159.5" x2="554.7" y2="159.5" stroke="#333" stroke-width="1" />
<line x1="328.5" y1="156.5" x2="333" y2="156.5" stroke="#333" stroke-width="1" />
<line x1="559.2" y1="156.5" x2="554.7" y2="156.5" stroke="#333" stroke-width="1" />
<line x1="328.5" y1="154.5" x2="333" y2="154.5" stroke="#333" stroke-width="1" />
<line x1="559.2" y1="154.5" x2="554.7" y2="154.5" stroke="#333" stroke-width="1" />
<line x1="328.5" y1="152.5" x2="333" y2="152.5" stroke="#333" stroke-width="1" />
<line x1="559.2" y1="152.5" x2="554.7" y2="152.5" stroke="#333" stroke-width="1" />
<line x1="328.5" y1="151.5" x2="333" y2="151.5" stroke="#333" stroke-width="1" />
<line x1="559.2" y1="151.5" x2="554.7" y2="151.5" stroke="#333" stroke-width="1" />
<line x1="328.5" y1="140.5" x2="333" y2="140.5" stroke="#333" stroke-width="1" />
<line x1="559.2" y1="140.5" x2="554.7" y2="140.5" stroke="#333" stroke-width="1" />
<line x1="328.5" y1="134.5" x2="333" y2="134.5" stroke="#333" stroke-width="1" />
<line x1="559.2" y1="134.5" x2="554.7" y2="134.5" stroke="#333" stroke-width="1" />
<line x1="328.5" y1="130.5" x2="333" y2="130.5" stroke="#333" stroke-width="1" />
<line x1="559.2" y1="130.5" x2="554.7" y2="130.5" stroke="#333" stroke-width="1" />
<line x1="328.5" y1="127.5" x2="333" y2="127.5" stroke="#333" stroke-width="1" />
<line x1="559.2" y1="127.5" x2="554.7" y2="127.5" stroke="#333" stroke-width="1" />
<line x1="328.5" y1="125.5" x2="333" y2="125.5" stroke="#333" stroke-width="1" />
<line x1="559.2" y1="125.5" x2="554.7" y2="125.5" stroke="#333" stroke-width="1" />
<line x1="328.5" y1="123.5" x2="333" y2="123.5" stroke="#333" stroke-width="1" />
<line x1="559.2" y1="123.5" x2="554.7" y2="123.5" stroke="#333" stroke-width="1" />
<line x1="328.5" y1="121.5" x2="333" y2="121.5" stroke="#333" stroke-width="1" />
<line x1="559.2" y1="121.5" x2="554.7" y2="121.5" stroke="#333" stroke-width="1" />
<line x1="328.5" y1="119.5" x2="333" y2="119.5" stroke="#333" stroke-width="1" />
<line x1="559.2" y1="119.5" x2="554.7" y2="119.5" stroke="#333" stroke-width="1" />
<line x1="328.5" y1="108.5" x2="333" y2="108.5" stroke="#333" stroke-width="1" />
<line x1="559.2" y1="108.5" x2="554.7" y2="108.5" stroke="#333" stroke-width="1" />
<line x1="328.5" y1="103.5" x2="333" y2="103.5" stroke="#333" stroke-width="1" />
<line x1="559.2" y1="103.5" x2="554.7" y2="103.5" stroke="#333" stroke-width="1" />
<line x1="328.5" y1="99.5" x2="333" y2="99.5" stroke="#333" stroke-width="1" />
<line x1="559.2" y1="99.5" x2="554.7" y2="99.5" stroke="#333" stroke-width="1" />
<line x1="328.5" y1="96.5" x2="333" y2="96.5" stroke="#333" stroke-width="1" />
<line x1="559.2" y1="96.5" x2="554.7" y2="96.5" stroke="#333" stroke-width="1" />
<line x1="328.5" y1="93.5" x2="333" y2="93.5" stroke="#333" stroke-width="1" />
<line x1="559.2" y1="93.5" x2="554.7" y2="93.5" stroke="#333" stroke-width="1" />
<line x1="328.5" y1="91.5" x2="333" y2="91.5" stroke="#333" stroke-width="1" />
<line x1="559.2" y1="91.5" x2="554.7" y2="91.5" stroke="#333" stroke-width="1" />
<line x1="328.5" y1="90.5" x2="333" y2="90.5" stroke="#333" stroke-width="1" />
<line x1="559.2" y1="90.5" x2="554.7" y2="90.5" stroke="#333" stroke-width="1" />
<line x1="328.5" y1="88.5" x2="333" y2="88.5" stroke="#333" stroke-width="1" />
<line x1="559.2" y1="88.5" x2="554.7" y2="88.5" stroke="#333" stroke-width="1" />
<line x1="328.5" y1="77.5" x2="333" y2="77.5" stroke="#333" stroke-width="1" />
<line x1="559.2" y1="77.5" x2="554.7" y2="77.5" stroke="#333" stroke-width="1" />
<line x1="328.5" y1="72.5" x2="333" y2="72.5" stroke="#333" stroke-width="1" />
<line x1="559.2" y1="72.5" x2="554.7" y2="72.5" stroke="#333" stroke-width="1" />
<line x1="328.5" y1="68.5" x2="333" y2="68.5" stroke="#333" stroke-width="1" />
<line x1="559.2" y1="68.5" x2="554.7" y2="68.5" stroke="#333" stroke-width="1" />
<line x1="328.5" y1="65.5" x2="333" y2="65.5" stroke="#333" stroke-width="1" />
<line x1="559.2" y1="65.5" x2="554.7" y2="65.5" stroke="#333" stroke-width="1" />
<line x1="328.5" y1="62.5" x2="333" y2="62.5" stroke="#333" stroke-width="1" />
<line x1="559.2" y1="62.5" x2="554.7" y2="62.5" stroke="#333" stroke-width="1" />
<line x1="328.5" y1="60.5" x2="333" y2="60.5" stroke="#333" stroke-width="1" />
<line x1="559.2" y1="60.5" x2="554.7" y2="60.5" stroke="#333" stroke-width="1" />
<line x1="328.5" y1="58.5" x2="333" y2="58.5" stroke="#333" stroke-width="1" />
<line x1="559.2" y1="58.5" x2="554.7" y2="58.5" stroke="#333" stroke-width="1" />
<line x1="328.5" y1="57.5" x2="333" y2="57.5" stroke="#333" stroke-width="1" />
<line x1="559.2" y1="57.5" x2="554.7" y2="57.5" stroke="#333" stroke-width="1" />
<text x="328.5" y="222.8" font-size="9" text-anchor="middle" fill="#222" font-family='"Liberation Sans", sans-serif' >0</text>
<text x="424.62" y="222.8" font-size="9" text-anchor="middle" fill="#222" font-family='"Liberation Sans", sans-serif' >50</text>
<text x="520.75" y="222.8" font-size="9" text-anchor="middle" fill="#222" font-family='"Liberation Sans", sans-serif' >100</text>
<text x="323.5" y="215.4" font-size="9" text-anchor="end" fill="#222" font-family='"Liberation Sans", sans-serif' >0.01</text>
<text x="323.5" y="184.1" font-size="9" text-anchor="end" fill="#222" font-family='"Liberation Sans", sans-serif' >0.1</text>
<text x="323.5" y="152.8" font-size="9" text-anchor="end" fill="#222" font-family='"Liberation Sans", sans-serif' >1</text>
<text x="323.5" y="121.5" font-size="9" text-anchor="end" fill="#222" font-family='"Liberation Sans", sans-serif' >10</text>
<text x="323.5" y="90.2" font-size="9" text-anchor="end" fill="#222" font-family='"Liberation Sans", sans-serif' >100</text>
<text x="323.5" y="58.9" font-size="9" text-anchor="end" fill="#222" font-family='"Liberation Sans", sans-serif' >1000</text>
<text x="341.9" y="40" font-size="12.2" text-anchor="start" fill="#222" font-family='"Liberation Sans", sans-serif' >ER(</text>
<path d="M373.55 36.1 L373.53 36.43 L373.47 36.75 L373.38 37.06 L373.25 37.34 L373.1 37.59 L372.92 37.81 L372.73 37.99 L372.52 38.13 L372.31 38.23 L372.09 38.3 L371.87 38.34 L371.66 38.35 L371.44 38.33 L371.24 38.29 L371.04 38.22 L370.85 38.14 L370.66 38.04 L370.49 37.93 L370.32 37.81 L370.16 37.67 L370 37.53 L369.85 37.39 L369.71 37.24 L369.57 37.08 L369.44 36.92 L369.3 36.76 L369.18 36.6 L369.05 36.43 L368.92 36.27 L368.8 36.1 L368.68 35.93 L368.55 35.77 L368.42 35.6 L368.3 35.44 L368.16 35.28 L368.03 35.12 L367.89 34.96 L367.75 34.81 L367.6 34.67 L367.44 34.53 L367.28 34.39 L367.11 34.27 L366.94 34.16 L366.75 34.06 L366.56 33.98 L366.36 33.91 L366.16 33.87 L365.94 33.85 L365.73 33.86 L365.51 33.9 L365.29 33.97 L365.08 34.07 L364.87 34.21 L364.68 34.39 L364.5 34.61 L364.35 34.86 L364.22 35.14 L364.13 35.45 L364.07 35.77 L364.05 36.1 L364.07 36.43 L364.13 36.75 L364.22 37.06 L364.35 37.34 L364.5 37.59 L364.68 37.81 L364.87 37.99 L365.08 38.13 L365.29 38.23 L365.51 38.3 L365.73 38.34 L365.94 38.35 L366.16 38.33 L366.36 38.29 L366.56 38.22 L366.75 38.14 L366.94 38.04 L367.11 37.93 L367.28 37.81 L367.44 37.67 L367.6 37.53 L367.75 37.39 L367.89 37.24 L368.03 37.08 L368.16 36.92 L368.3 36.76 L368.42 36.6 L368.55 36.43 L368.68 36.27 L368.8 36.1 L368.92 35.93 L369.05 35.77 L369.18 35.6 L369.3 35.44 L369.44 35.28 L369.57 35.12 L369.71 34.96 L369.85 34.81 L370 34.67 L370.16 34.53 L370.32 34.39 L370.49 34.27 L370.66 34.16 L370.85 34.06 L371.04 33.98 L371.24 33.91 L371.44 33.87 L371.66 33.85 L371.87 33.86 L372.09 33.9 L372.31 33.97 L372.52 34.07 L372.73 34.21 L372.92 34.39 L373.1 34.61 L373.25 34.86 L373.38 35.14 L373.47 35.45 L373.53 35.77 L373.55 36.1Z" fill="none" stroke="#555" stroke-width="0.9"/>
<text x="374" y="40" font-size="12.2" text-anchor="start" fill="#222" font-family='"Liberation Sans", sans-serif' textLength="60.2" lengthAdjust="spacing">, 4, 15 000)</text>
<text x="441.6" y="40.5" font-size="12.2" text-anchor="start" fill="#222" font-family='"Liberation Sans", sans-serif' >Proportional fairness</text>
<text x="286.9" y="58.1" font-size="16" fill="#111" font-family='"Liberation Sans", sans-serif'>D<tspan dx="0.5">)</tspan></text>
<g transform="translate(296.2,156.8) rotate(-90)">
<text x="0" y="0" font-size="12" text-anchor="start" fill="#222" font-family='"Liberation Sans", sans-serif' >Frequency</text>
</g>
<rect x="330.5" y="348.5" width="6" height="86.1" fill="#fff" stroke="#000" stroke-width="1"/>
<rect x="330" y="431.5" width="7" height="3.1" fill="#000" stroke="none" stroke-width="1"/>
<rect x="352.5" y="342.5" width="6" height="92.1" fill="#fff" stroke="#000" stroke-width="1"/>
<rect x="352" y="431" width="7" height="3.6" fill="#000" stroke="none" stroke-width="1"/>
<rect x="363.5" y="342.5" width="6" height="92.1" fill="#fff" stroke="#000" stroke-width="1"/>
<rect x="363" y="431" width="7" height="3.6" fill="#000" stroke="none" stroke-width="1"/>
<rect x="375.5" y="325.5" width="6" height="109.1" fill="#fff" stroke="#000" stroke-width="1"/>
<rect x="375" y="432.2" width="7" height="2.4" fill="#000" stroke="none" stroke-width="1"/>
<rect x="386.5" y="324.5" width="6" height="110.1" fill="#fff" stroke="#000" stroke-width="1"/>
<rect x="386" y="431.2" width="7" height="3.4" fill="#000" stroke="none" stroke-width="1"/>
<rect x="397.5" y="312.5" width="6" height="122.1" fill="#fff" stroke="#000" stroke-width="1"/>
<rect x="397" y="424.6" width="7" height="10" fill="#000" stroke="none" stroke-width="1"/>
<rect x="409.5" y="305.5" width="6" height="129.1" fill="#fff" stroke="#000" stroke-width="1"/>
<rect x="409" y="419" width="7" height="15.6" fill="#000" stroke="none" stroke-width="1"/>
<rect x="420.5" y="294.5" width="6" height="140.1" fill="#fff" stroke="#000" stroke-width="1"/>
<rect x="420" y="409.2" width="7" height="25.4" fill="#000" stroke="none" stroke-width="1"/>
<rect x="431.5" y="280.5" width="6" height="154.1" fill="#fff" stroke="#000" stroke-width="1"/>
<rect x="431" y="393.6" width="7" height="41" fill="#000" stroke="none" stroke-width="1"/>
<rect x="443.5" y="273.5" width="6" height="161.1" fill="#fff" stroke="#000" stroke-width="1"/>
<rect x="443" y="388.9" width="7" height="45.7" fill="#000" stroke="none" stroke-width="1"/>
<rect x="454.5" y="276.5" width="6" height="158.1" fill="#fff" stroke="#000" stroke-width="1"/>
<rect x="454" y="368.4" width="7" height="66.2" fill="#000" stroke="none" stroke-width="1"/>
<rect x="465.5" y="282.5" width="6" height="152.1" fill="#fff" stroke="#000" stroke-width="1"/>
<rect x="465" y="333.5" width="7" height="101.1" fill="#000" stroke="none" stroke-width="1"/>
<rect x="477.5" y="290.5" width="6" height="144.1" fill="#fff" stroke="#000" stroke-width="1"/>
<rect x="477" y="311.7" width="7" height="122.9" fill="#000" stroke="none" stroke-width="1"/>
<rect x="488.5" y="296.5" width="6" height="138.1" fill="#fff" stroke="#000" stroke-width="1"/>
<rect x="488" y="304" width="7" height="130.6" fill="#000" stroke="none" stroke-width="1"/>
<rect x="499.5" y="306.5" width="6" height="128.1" fill="#fff" stroke="#000" stroke-width="1"/>
<rect x="499" y="310.5" width="7" height="124.1" fill="#000" stroke="none" stroke-width="1"/>
<rect x="511.5" y="317.5" width="6" height="117.1" fill="#fff" stroke="#000" stroke-width="1"/>
<rect x="511" y="320.7" width="7" height="113.9" fill="#000" stroke="none" stroke-width="1"/>
<rect x="522.5" y="330.5" width="6" height="104.1" fill="#fff" stroke="#000" stroke-width="1"/>
<rect x="522" y="331.9" width="7" height="102.7" fill="#000" stroke="none" stroke-width="1"/>
<rect x="533.5" y="349.5" width="6" height="85.1" fill="#fff" stroke="#000" stroke-width="1"/>
<rect x="533" y="348.8" width="7" height="85.8" fill="#000" stroke="none" stroke-width="1"/>
<rect x="545.5" y="366.5" width="6" height="68.1" fill="#fff" stroke="#000" stroke-width="1"/>
<rect x="545" y="365.9" width="7" height="68.7" fill="#000" stroke="none" stroke-width="1"/>
<rect x="328.5" y="269.5" width="231" height="165" fill="none" stroke="#2a2a2a" stroke-width="1.2"/>
<line x1="328.5" y1="434.6" x2="328.5" y2="425.6" stroke="#333" stroke-width="1" />
<line x1="328.5" y1="269.8" x2="328.5" y2="278.8" stroke="#333" stroke-width="1" />
<line x1="404.5" y1="434.6" x2="404.5" y2="425.6" stroke="#333" stroke-width="1" />
<line x1="404.5" y1="269.8" x2="404.5" y2="278.8" stroke="#333" stroke-width="1" />
<line x1="481.5" y1="434.6" x2="481.5" y2="425.6" stroke="#333" stroke-width="1" />
<line x1="481.5" y1="269.8" x2="481.5" y2="278.8" stroke="#333" stroke-width="1" />
<line x1="557.5" y1="434.6" x2="557.5" y2="425.6" stroke="#333" stroke-width="1" />
<line x1="557.5" y1="269.8" x2="557.5" y2="278.8" stroke="#333" stroke-width="1" />
<line x1="351.5" y1="434.6" x2="351.5" y2="430.1" stroke="#333" stroke-width="1" />
<line x1="351.5" y1="269.8" x2="351.5" y2="274.3" stroke="#333" stroke-width="1" />
<line x1="364.5" y1="434.6" x2="364.5" y2="430.1" stroke="#333" stroke-width="1" />
<line x1="364.5" y1="269.8" x2="364.5" y2="274.3" stroke="#333" stroke-width="1" />
<line x1="374.5" y1="434.6" x2="374.5" y2="430.1" stroke="#333" stroke-width="1" />
<line x1="374.5" y1="269.8" x2="374.5" y2="274.3" stroke="#333" stroke-width="1" />
<line x1="381.5" y1="434.6" x2="381.5" y2="430.1" stroke="#333" stroke-width="1" />
<line x1="381.5" y1="269.8" x2="381.5" y2="274.3" stroke="#333" stroke-width="1" />
<line x1="387.5" y1="434.6" x2="387.5" y2="430.1" stroke="#333" stroke-width="1" />
<line x1="387.5" y1="269.8" x2="387.5" y2="274.3" stroke="#333" stroke-width="1" />
<line x1="392.5" y1="434.6" x2="392.5" y2="430.1" stroke="#333" stroke-width="1" />
<line x1="392.5" y1="269.8" x2="392.5" y2="274.3" stroke="#333" stroke-width="1" />
<line x1="397.5" y1="434.6" x2="397.5" y2="430.1" stroke="#333" stroke-width="1" />
<line x1="397.5" y1="269.8" x2="397.5" y2="274.3" stroke="#333" stroke-width="1" />
<line x1="401.5" y1="434.6" x2="401.5" y2="430.1" stroke="#333" stroke-width="1" />
<line x1="401.5" y1="269.8" x2="401.5" y2="274.3" stroke="#333" stroke-width="1" />
<line x1="427.5" y1="434.6" x2="427.5" y2="430.1" stroke="#333" stroke-width="1" />
<line x1="427.5" y1="269.8" x2="427.5" y2="274.3" stroke="#333" stroke-width="1" />
<line x1="441.5" y1="434.6" x2="441.5" y2="430.1" stroke="#333" stroke-width="1" />
<line x1="441.5" y1="269.8" x2="441.5" y2="274.3" stroke="#333" stroke-width="1" />
<line x1="450.5" y1="434.6" x2="450.5" y2="430.1" stroke="#333" stroke-width="1" />
<line x1="450.5" y1="269.8" x2="450.5" y2="274.3" stroke="#333" stroke-width="1" />
<line x1="458.5" y1="434.6" x2="458.5" y2="430.1" stroke="#333" stroke-width="1" />
<line x1="458.5" y1="269.8" x2="458.5" y2="274.3" stroke="#333" stroke-width="1" />
<line x1="464.5" y1="434.6" x2="464.5" y2="430.1" stroke="#333" stroke-width="1" />
<line x1="464.5" y1="269.8" x2="464.5" y2="274.3" stroke="#333" stroke-width="1" />
<line x1="469.5" y1="434.6" x2="469.5" y2="430.1" stroke="#333" stroke-width="1" />
<line x1="469.5" y1="269.8" x2="469.5" y2="274.3" stroke="#333" stroke-width="1" />
<line x1="473.5" y1="434.6" x2="473.5" y2="430.1" stroke="#333" stroke-width="1" />
<line x1="473.5" y1="269.8" x2="473.5" y2="274.3" stroke="#333" stroke-width="1" />
<line x1="477.5" y1="434.6" x2="477.5" y2="430.1" stroke="#333" stroke-width="1" />
<line x1="477.5" y1="269.8" x2="477.5" y2="274.3" stroke="#333" stroke-width="1" />
<line x1="504.5" y1="434.6" x2="504.5" y2="430.1" stroke="#333" stroke-width="1" />
<line x1="504.5" y1="269.8" x2="504.5" y2="274.3" stroke="#333" stroke-width="1" />
<line x1="517.5" y1="434.6" x2="517.5" y2="430.1" stroke="#333" stroke-width="1" />
<line x1="517.5" y1="269.8" x2="517.5" y2="274.3" stroke="#333" stroke-width="1" />
<line x1="527.5" y1="434.6" x2="527.5" y2="430.1" stroke="#333" stroke-width="1" />
<line x1="527.5" y1="269.8" x2="527.5" y2="274.3" stroke="#333" stroke-width="1" />
<line x1="534.5" y1="434.6" x2="534.5" y2="430.1" stroke="#333" stroke-width="1" />
<line x1="534.5" y1="269.8" x2="534.5" y2="274.3" stroke="#333" stroke-width="1" />
<line x1="540.5" y1="434.6" x2="540.5" y2="430.1" stroke="#333" stroke-width="1" />
<line x1="540.5" y1="269.8" x2="540.5" y2="274.3" stroke="#333" stroke-width="1" />
<line x1="545.5" y1="434.6" x2="545.5" y2="430.1" stroke="#333" stroke-width="1" />
<line x1="545.5" y1="269.8" x2="545.5" y2="274.3" stroke="#333" stroke-width="1" />
<line x1="550.5" y1="434.6" x2="550.5" y2="430.1" stroke="#333" stroke-width="1" />
<line x1="550.5" y1="269.8" x2="550.5" y2="274.3" stroke="#333" stroke-width="1" />
<line x1="554.5" y1="434.6" x2="554.5" y2="430.1" stroke="#333" stroke-width="1" />
<line x1="554.5" y1="269.8" x2="554.5" y2="274.3" stroke="#333" stroke-width="1" />
<line x1="328" y1="434.5" x2="337" y2="434.5" stroke="#333" stroke-width="1" />
<line x1="559" y1="434.5" x2="550" y2="434.5" stroke="#333" stroke-width="1" />
<line x1="328" y1="397.5" x2="337" y2="397.5" stroke="#333" stroke-width="1" />
<line x1="559" y1="397.5" x2="550" y2="397.5" stroke="#333" stroke-width="1" />
<line x1="328" y1="361.5" x2="337" y2="361.5" stroke="#333" stroke-width="1" />
<line x1="559" y1="361.5" x2="550" y2="361.5" stroke="#333" stroke-width="1" />
<line x1="328" y1="324.5" x2="337" y2="324.5" stroke="#333" stroke-width="1" />
<line x1="559" y1="324.5" x2="550" y2="324.5" stroke="#333" stroke-width="1" />
<line x1="328" y1="287.5" x2="337" y2="287.5" stroke="#333" stroke-width="1" />
<line x1="559" y1="287.5" x2="550" y2="287.5" stroke="#333" stroke-width="1" />
<line x1="328" y1="423.5" x2="332.5" y2="423.5" stroke="#333" stroke-width="1" />
<line x1="559" y1="423.5" x2="554.5" y2="423.5" stroke="#333" stroke-width="1" />
<line x1="328" y1="417.5" x2="332.5" y2="417.5" stroke="#333" stroke-width="1" />
<line x1="559" y1="417.5" x2="554.5" y2="417.5" stroke="#333" stroke-width="1" />
<line x1="328" y1="412.5" x2="332.5" y2="412.5" stroke="#333" stroke-width="1" />
<line x1="559" y1="412.5" x2="554.5" y2="412.5" stroke="#333" stroke-width="1" />
<line x1="328" y1="409.5" x2="332.5" y2="409.5" stroke="#333" stroke-width="1" />
<line x1="559" y1="409.5" x2="554.5" y2="409.5" stroke="#333" stroke-width="1" />
<line x1="328" y1="406.5" x2="332.5" y2="406.5" stroke="#333" stroke-width="1" />
<line x1="559" y1="406.5" x2="554.5" y2="406.5" stroke="#333" stroke-width="1" />
<line x1="328" y1="403.5" x2="332.5" y2="403.5" stroke="#333" stroke-width="1" />
<line x1="559" y1="403.5" x2="554.5" y2="403.5" stroke="#333" stroke-width="1" />
<line x1="328" y1="401.5" x2="332.5" y2="401.5" stroke="#333" stroke-width="1" />
<line x1="559" y1="401.5" x2="554.5" y2="401.5" stroke="#333" stroke-width="1" />
<line x1="328" y1="399.5" x2="332.5" y2="399.5" stroke="#333" stroke-width="1" />
<line x1="559" y1="399.5" x2="554.5" y2="399.5" stroke="#333" stroke-width="1" />
<line x1="328" y1="386.5" x2="332.5" y2="386.5" stroke="#333" stroke-width="1" />
<line x1="559" y1="386.5" x2="554.5" y2="386.5" stroke="#333" stroke-width="1" />
<line x1="328" y1="380.5" x2="332.5" y2="380.5" stroke="#333" stroke-width="1" />
<line x1="559" y1="380.5" x2="554.5" y2="380.5" stroke="#333" stroke-width="1" />
<line x1="328" y1="375.5" x2="332.5" y2="375.5" stroke="#333" stroke-width="1" />
<line x1="559" y1="375.5" x2="554.5" y2="375.5" stroke="#333" stroke-width="1" />
<line x1="328" y1="372.5" x2="332.5" y2="372.5" stroke="#333" stroke-width="1" />
<line x1="559" y1="372.5" x2="554.5" y2="372.5" stroke="#333" stroke-width="1" />
<line x1="328" y1="369.5" x2="332.5" y2="369.5" stroke="#333" stroke-width="1" />
<line x1="559" y1="369.5" x2="554.5" y2="369.5" stroke="#333" stroke-width="1" />
<line x1="328" y1="366.5" x2="332.5" y2="366.5" stroke="#333" stroke-width="1" />
<line x1="559" y1="366.5" x2="554.5" y2="366.5" stroke="#333" stroke-width="1" />
<line x1="328" y1="364.5" x2="332.5" y2="364.5" stroke="#333" stroke-width="1" />
<line x1="559" y1="364.5" x2="554.5" y2="364.5" stroke="#333" stroke-width="1" />
<line x1="328" y1="362.5" x2="332.5" y2="362.5" stroke="#333" stroke-width="1" />
<line x1="559" y1="362.5" x2="554.5" y2="362.5" stroke="#333" stroke-width="1" />
<line x1="328" y1="349.5" x2="332.5" y2="349.5" stroke="#333" stroke-width="1" />
<line x1="559" y1="349.5" x2="554.5" y2="349.5" stroke="#333" stroke-width="1" />
<line x1="328" y1="343.5" x2="332.5" y2="343.5" stroke="#333" stroke-width="1" />
<line x1="559" y1="343.5" x2="554.5" y2="343.5" stroke="#333" stroke-width="1" />
<line x1="328" y1="338.5" x2="332.5" y2="338.5" stroke="#333" stroke-width="1" />
<line x1="559" y1="338.5" x2="554.5" y2="338.5" stroke="#333" stroke-width="1" />
<line x1="328" y1="335.5" x2="332.5" y2="335.5" stroke="#333" stroke-width="1" />
<line x1="559" y1="335.5" x2="554.5" y2="335.5" stroke="#333" stroke-width="1" />
<line x1="328" y1="332.5" x2="332.5" y2="332.5" stroke="#333" stroke-width="1" />
<line x1="559" y1="332.5" x2="554.5" y2="332.5" stroke="#333" stroke-width="1" />
<line x1="328" y1="329.5" x2="332.5" y2="329.5" stroke="#333" stroke-width="1" />
<line x1="559" y1="329.5" x2="554.5" y2="329.5" stroke="#333" stroke-width="1" />
<line x1="328" y1="327.5" x2="332.5" y2="327.5" stroke="#333" stroke-width="1" />
<line x1="559" y1="327.5" x2="554.5" y2="327.5" stroke="#333" stroke-width="1" />
<line x1="328" y1="325.5" x2="332.5" y2="325.5" stroke="#333" stroke-width="1" />
<line x1="559" y1="325.5" x2="554.5" y2="325.5" stroke="#333" stroke-width="1" />
<line x1="328" y1="312.5" x2="332.5" y2="312.5" stroke="#333" stroke-width="1" />
<line x1="559" y1="312.5" x2="554.5" y2="312.5" stroke="#333" stroke-width="1" />
<line x1="328" y1="306.5" x2="332.5" y2="306.5" stroke="#333" stroke-width="1" />
<line x1="559" y1="306.5" x2="554.5" y2="306.5" stroke="#333" stroke-width="1" />
<line x1="328" y1="301.5" x2="332.5" y2="301.5" stroke="#333" stroke-width="1" />
<line x1="559" y1="301.5" x2="554.5" y2="301.5" stroke="#333" stroke-width="1" />
<line x1="328" y1="298.5" x2="332.5" y2="298.5" stroke="#333" stroke-width="1" />
<line x1="559" y1="298.5" x2="554.5" y2="298.5" stroke="#333" stroke-width="1" />
<line x1="328" y1="295.5" x2="332.5" y2="295.5" stroke="#333" stroke-width="1" />
<line x1="559" y1="295.5" x2="554.5" y2="295.5" stroke="#333" stroke-width="1" />
<line x1="328" y1="292.5" x2="332.5" y2="292.5" stroke="#333" stroke-width="1" />
<line x1="559" y1="292.5" x2="554.5" y2="292.5" stroke="#333" stroke-width="1" />
<line x1="328" y1="290.5" x2="332.5" y2="290.5" stroke="#333" stroke-width="1" />
<line x1="559" y1="290.5" x2="554.5" y2="290.5" stroke="#333" stroke-width="1" />
<line x1="328" y1="288.5" x2="332.5" y2="288.5" stroke="#333" stroke-width="1" />
<line x1="559" y1="288.5" x2="554.5" y2="288.5" stroke="#333" stroke-width="1" />
<line x1="328" y1="276.5" x2="332.5" y2="276.5" stroke="#333" stroke-width="1" />
<line x1="559" y1="276.5" x2="554.5" y2="276.5" stroke="#333" stroke-width="1" />
<line x1="328" y1="269.5" x2="332.5" y2="269.5" stroke="#333" stroke-width="1" />
<line x1="559" y1="269.5" x2="554.5" y2="269.5" stroke="#333" stroke-width="1" />
<text x="328.3" y="445.8" font-size="9" text-anchor="middle" fill="#222" font-family='"Liberation Sans", sans-serif' >1</text>
<text x="404.8" y="445.8" font-size="9" text-anchor="middle" fill="#222" font-family='"Liberation Sans", sans-serif' >10</text>
<text x="481.3" y="445.8" font-size="9" text-anchor="middle" fill="#222" font-family='"Liberation Sans", sans-serif' >100</text>
<text x="559" y="445.8" font-size="9" text-anchor="middle" fill="#222" font-family='"Liberation Sans", sans-serif' >1000</text>
<text x="323.5" y="438" font-size="9" text-anchor="end" fill="#222" font-family='"Liberation Sans", sans-serif' >0.01</text>
<text x="323.5" y="401.1" font-size="9" text-anchor="end" fill="#222" font-family='"Liberation Sans", sans-serif' >0.1</text>
<text x="323.5" y="364.2" font-size="9" text-anchor="end" fill="#222" font-family='"Liberation Sans", sans-serif' >1</text>
<text x="323.5" y="327.3" font-size="9" text-anchor="end" fill="#222" font-family='"Liberation Sans", sans-serif' >10</text>
<text x="323.5" y="290.4" font-size="9" text-anchor="end" fill="#222" font-family='"Liberation Sans", sans-serif' >100</text>
<text x="332.8" y="262" font-size="12.2" text-anchor="start" fill="#222" font-family='"Liberation Sans", sans-serif' >SF(2.1, 3, 15 000)</text>
<text x="439.6" y="262" font-size="12.2" text-anchor="start" fill="#222" font-family='"Liberation Sans", sans-serif' >Proportional fairness</text>
<text x="290.8" y="280.4" font-size="16" fill="#111" font-family='"Liberation Sans", sans-serif'>E<tspan dx="0.2">)</tspan></text>
<g transform="translate(299.5,379.2) rotate(-90)">
<text x="0" y="0" font-size="12" text-anchor="start" fill="#222" font-family='"Liberation Sans", sans-serif' >Frequency</text>
</g>
<rect x="329.5" y="499.5" width="6" height="156.5" fill="#fff" stroke="#000" stroke-width="1"/>
<rect x="351.5" y="498.5" width="6" height="157.5" fill="#fff" stroke="#000" stroke-width="1"/>
<rect x="351" y="652.4" width="7" height="3.6" fill="#000" stroke="none" stroke-width="1"/>
<rect x="373.5" y="499.5" width="6" height="156.5" fill="#fff" stroke="#000" stroke-width="1"/>
<rect x="373" y="644.9" width="7" height="11.1" fill="#000" stroke="none" stroke-width="1"/>
<rect x="384.5" y="501.5" width="6" height="154.5" fill="#fff" stroke="#000" stroke-width="1"/>
<rect x="384" y="636.1" width="7" height="19.9" fill="#000" stroke="none" stroke-width="1"/>
<rect x="396.5" y="504.5" width="6" height="151.5" fill="#fff" stroke="#000" stroke-width="1"/>
<rect x="396" y="624.8" width="7" height="31.2" fill="#000" stroke="none" stroke-width="1"/>
<rect x="407.5" y="498.5" width="6" height="157.5" fill="#fff" stroke="#000" stroke-width="1"/>
<rect x="407" y="605.5" width="7" height="50.5" fill="#000" stroke="none" stroke-width="1"/>
<rect x="418.5" y="502.5" width="6" height="153.5" fill="#fff" stroke="#000" stroke-width="1"/>
<rect x="418" y="585.4" width="7" height="70.6" fill="#000" stroke="none" stroke-width="1"/>
<rect x="429.5" y="501.5" width="6" height="154.5" fill="#fff" stroke="#000" stroke-width="1"/>
<rect x="429" y="557.8" width="7" height="98.2" fill="#000" stroke="none" stroke-width="1"/>
<rect x="440.5" y="504.5" width="6" height="151.5" fill="#fff" stroke="#000" stroke-width="1"/>
<rect x="440" y="531.2" width="7" height="124.8" fill="#000" stroke="none" stroke-width="1"/>
<rect x="451.5" y="511.5" width="6" height="144.5" fill="#fff" stroke="#000" stroke-width="1"/>
<rect x="451" y="519.4" width="7" height="136.6" fill="#000" stroke="none" stroke-width="1"/>
<rect x="462.5" y="522.5" width="6" height="133.5" fill="#fff" stroke="#000" stroke-width="1"/>
<rect x="462" y="521.9" width="7" height="134.1" fill="#000" stroke="none" stroke-width="1"/>
<rect x="473.5" y="531.5" width="6" height="124.5" fill="#fff" stroke="#000" stroke-width="1"/>
<rect x="473" y="531.2" width="7" height="124.8" fill="#000" stroke="none" stroke-width="1"/>
<rect x="484.5" y="540.5" width="6" height="115.5" fill="#fff" stroke="#000" stroke-width="1"/>
<rect x="484" y="540.2" width="7" height="115.8" fill="#000" stroke="none" stroke-width="1"/>
<rect x="496.5" y="548.5" width="6" height="107.5" fill="#fff" stroke="#000" stroke-width="1"/>
<rect x="496" y="548.2" width="7" height="107.8" fill="#000" stroke="none" stroke-width="1"/>
<rect x="507.5" y="560.5" width="6" height="95.5" fill="#fff" stroke="#000" stroke-width="1"/>
<rect x="507" y="560" width="7" height="96" fill="#000" stroke="none" stroke-width="1"/>
<rect x="518.5" y="570.5" width="6" height="85.5" fill="#fff" stroke="#000" stroke-width="1"/>
<rect x="518" y="569.8" width="7" height="86.2" fill="#000" stroke="none" stroke-width="1"/>
<rect x="529.5" y="583.5" width="6" height="72.5" fill="#fff" stroke="#000" stroke-width="1"/>
<rect x="529" y="583.4" width="7" height="72.6" fill="#000" stroke="none" stroke-width="1"/>
<rect x="540.5" y="603.5" width="6" height="52.5" fill="#fff" stroke="#000" stroke-width="1"/>
<rect x="540" y="602.9" width="7" height="53.1" fill="#000" stroke="none" stroke-width="1"/>
<rect x="326.5" y="491.5" width="232" height="165" fill="none" stroke="#2a2a2a" stroke-width="1.2"/>
<line x1="327.5" y1="656" x2="327.5" y2="647" stroke="#333" stroke-width="1" />
<line x1="327.5" y1="491.4" x2="327.5" y2="500.4" stroke="#333" stroke-width="1" />
<line x1="427.5" y1="656" x2="427.5" y2="647" stroke="#333" stroke-width="1" />
<line x1="427.5" y1="491.4" x2="427.5" y2="500.4" stroke="#333" stroke-width="1" />
<line x1="527.5" y1="656" x2="527.5" y2="647" stroke="#333" stroke-width="1" />
<line x1="527.5" y1="491.4" x2="527.5" y2="500.4" stroke="#333" stroke-width="1" />
<line x1="357.5" y1="656" x2="357.5" y2="651.5" stroke="#333" stroke-width="1" />
<line x1="357.5" y1="491.4" x2="357.5" y2="495.9" stroke="#333" stroke-width="1" />
<line x1="375.5" y1="656" x2="375.5" y2="651.5" stroke="#333" stroke-width="1" />
<line x1="375.5" y1="491.4" x2="375.5" y2="495.9" stroke="#333" stroke-width="1" />
<line x1="387.5" y1="656" x2="387.5" y2="651.5" stroke="#333" stroke-width="1" />
<line x1="387.5" y1="491.4" x2="387.5" y2="495.9" stroke="#333" stroke-width="1" />
<line x1="397.5" y1="656" x2="397.5" y2="651.5" stroke="#333" stroke-width="1" />
<line x1="397.5" y1="491.4" x2="397.5" y2="495.9" stroke="#333" stroke-width="1" />
<line x1="405.5" y1="656" x2="405.5" y2="651.5" stroke="#333" stroke-width="1" />
<line x1="405.5" y1="491.4" x2="405.5" y2="495.9" stroke="#333" stroke-width="1" />
<line x1="411.5" y1="656" x2="411.5" y2="651.5" stroke="#333" stroke-width="1" />
<line x1="411.5" y1="491.4" x2="411.5" y2="495.9" stroke="#333" stroke-width="1" />
<line x1="417.5" y1="656" x2="417.5" y2="651.5" stroke="#333" stroke-width="1" />
<line x1="417.5" y1="491.4" x2="417.5" y2="495.9" stroke="#333" stroke-width="1" />
<line x1="422.5" y1="656" x2="422.5" y2="651.5" stroke="#333" stroke-width="1" />
<line x1="422.5" y1="491.4" x2="422.5" y2="495.9" stroke="#333" stroke-width="1" />
<line x1="457.5" y1="656" x2="457.5" y2="651.5" stroke="#333" stroke-width="1" />
<line x1="457.5" y1="491.4" x2="457.5" y2="495.9" stroke="#333" stroke-width="1" />
<line x1="475.5" y1="656" x2="475.5" y2="651.5" stroke="#333" stroke-width="1" />
<line x1="475.5" y1="491.4" x2="475.5" y2="495.9" stroke="#333" stroke-width="1" />
<line x1="487.5" y1="656" x2="487.5" y2="651.5" stroke="#333" stroke-width="1" />
<line x1="487.5" y1="491.4" x2="487.5" y2="495.9" stroke="#333" stroke-width="1" />
<line x1="497.5" y1="656" x2="497.5" y2="651.5" stroke="#333" stroke-width="1" />
<line x1="497.5" y1="491.4" x2="497.5" y2="495.9" stroke="#333" stroke-width="1" />
<line x1="505.5" y1="656" x2="505.5" y2="651.5" stroke="#333" stroke-width="1" />
<line x1="505.5" y1="491.4" x2="505.5" y2="495.9" stroke="#333" stroke-width="1" />
<line x1="512.5" y1="656" x2="512.5" y2="651.5" stroke="#333" stroke-width="1" />
<line x1="512.5" y1="491.4" x2="512.5" y2="495.9" stroke="#333" stroke-width="1" />
<line x1="518.5" y1="656" x2="518.5" y2="651.5" stroke="#333" stroke-width="1" />
<line x1="518.5" y1="491.4" x2="518.5" y2="495.9" stroke="#333" stroke-width="1" />
<line x1="523.5" y1="656" x2="523.5" y2="651.5" stroke="#333" stroke-width="1" />
<line x1="523.5" y1="491.4" x2="523.5" y2="495.9" stroke="#333" stroke-width="1" />
<line x1="557.5" y1="656" x2="557.5" y2="651.5" stroke="#333" stroke-width="1" />
<line x1="557.5" y1="491.4" x2="557.5" y2="495.9" stroke="#333" stroke-width="1" />
<line x1="326.7" y1="656.5" x2="335.7" y2="656.5" stroke="#333" stroke-width="1" />
<line x1="558" y1="656.5" x2="549" y2="656.5" stroke="#333" stroke-width="1" />
<line x1="326.7" y1="623.5" x2="335.7" y2="623.5" stroke="#333" stroke-width="1" />
<line x1="558" y1="623.5" x2="549" y2="623.5" stroke="#333" stroke-width="1" />
<line x1="326.7" y1="590.5" x2="335.7" y2="590.5" stroke="#333" stroke-width="1" />
<line x1="558" y1="590.5" x2="549" y2="590.5" stroke="#333" stroke-width="1" />
<line x1="326.7" y1="557.5" x2="335.7" y2="557.5" stroke="#333" stroke-width="1" />
<line x1="558" y1="557.5" x2="549" y2="557.5" stroke="#333" stroke-width="1" />
<line x1="326.7" y1="524.5" x2="335.7" y2="524.5" stroke="#333" stroke-width="1" />
<line x1="558" y1="524.5" x2="549" y2="524.5" stroke="#333" stroke-width="1" />
<line x1="326.7" y1="491.5" x2="335.7" y2="491.5" stroke="#333" stroke-width="1" />
<line x1="558" y1="491.5" x2="549" y2="491.5" stroke="#333" stroke-width="1" />
<line x1="326.7" y1="646.5" x2="331.2" y2="646.5" stroke="#333" stroke-width="1" />
<line x1="558" y1="646.5" x2="553.5" y2="646.5" stroke="#333" stroke-width="1" />
<line x1="326.7" y1="640.5" x2="331.2" y2="640.5" stroke="#333" stroke-width="1" />
<line x1="558" y1="640.5" x2="553.5" y2="640.5" stroke="#333" stroke-width="1" />
<line x1="326.7" y1="636.5" x2="331.2" y2="636.5" stroke="#333" stroke-width="1" />
<line x1="558" y1="636.5" x2="553.5" y2="636.5" stroke="#333" stroke-width="1" />
<line x1="326.7" y1="633.5" x2="331.2" y2="633.5" stroke="#333" stroke-width="1" />
<line x1="558" y1="633.5" x2="553.5" y2="633.5" stroke="#333" stroke-width="1" />
<line x1="326.7" y1="630.5" x2="331.2" y2="630.5" stroke="#333" stroke-width="1" />
<line x1="558" y1="630.5" x2="553.5" y2="630.5" stroke="#333" stroke-width="1" />
<line x1="326.7" y1="628.5" x2="331.2" y2="628.5" stroke="#333" stroke-width="1" />
<line x1="558" y1="628.5" x2="553.5" y2="628.5" stroke="#333" stroke-width="1" />
<line x1="326.7" y1="626.5" x2="331.2" y2="626.5" stroke="#333" stroke-width="1" />
<line x1="558" y1="626.5" x2="553.5" y2="626.5" stroke="#333" stroke-width="1" />
<line x1="326.7" y1="624.5" x2="331.2" y2="624.5" stroke="#333" stroke-width="1" />
<line x1="558" y1="624.5" x2="553.5" y2="624.5" stroke="#333" stroke-width="1" />
<line x1="326.7" y1="613.5" x2="331.2" y2="613.5" stroke="#333" stroke-width="1" />
<line x1="558" y1="613.5" x2="553.5" y2="613.5" stroke="#333" stroke-width="1" />
<line x1="326.7" y1="607.5" x2="331.2" y2="607.5" stroke="#333" stroke-width="1" />
<line x1="558" y1="607.5" x2="553.5" y2="607.5" stroke="#333" stroke-width="1" />
<line x1="326.7" y1="603.5" x2="331.2" y2="603.5" stroke="#333" stroke-width="1" />
<line x1="558" y1="603.5" x2="553.5" y2="603.5" stroke="#333" stroke-width="1" />
<line x1="326.7" y1="600.5" x2="331.2" y2="600.5" stroke="#333" stroke-width="1" />
<line x1="558" y1="600.5" x2="553.5" y2="600.5" stroke="#333" stroke-width="1" />
<line x1="326.7" y1="597.5" x2="331.2" y2="597.5" stroke="#333" stroke-width="1" />
<line x1="558" y1="597.5" x2="553.5" y2="597.5" stroke="#333" stroke-width="1" />
<line x1="326.7" y1="595.5" x2="331.2" y2="595.5" stroke="#333" stroke-width="1" />
<line x1="558" y1="595.5" x2="553.5" y2="595.5" stroke="#333" stroke-width="1" />
<line x1="326.7" y1="593.5" x2="331.2" y2="593.5" stroke="#333" stroke-width="1" />
<line x1="558" y1="593.5" x2="553.5" y2="593.5" stroke="#333" stroke-width="1" />
<line x1="326.7" y1="591.5" x2="331.2" y2="591.5" stroke="#333" stroke-width="1" />
<line x1="558" y1="591.5" x2="553.5" y2="591.5" stroke="#333" stroke-width="1" />
<line x1="326.7" y1="580.5" x2="331.2" y2="580.5" stroke="#333" stroke-width="1" />
<line x1="558" y1="580.5" x2="553.5" y2="580.5" stroke="#333" stroke-width="1" />
<line x1="326.7" y1="574.5" x2="331.2" y2="574.5" stroke="#333" stroke-width="1" />
<line x1="558" y1="574.5" x2="553.5" y2="574.5" stroke="#333" stroke-width="1" />
<line x1="326.7" y1="570.5" x2="331.2" y2="570.5" stroke="#333" stroke-width="1" />
<line x1="558" y1="570.5" x2="553.5" y2="570.5" stroke="#333" stroke-width="1" />
<line x1="326.7" y1="567.5" x2="331.2" y2="567.5" stroke="#333" stroke-width="1" />
<line x1="558" y1="567.5" x2="553.5" y2="567.5" stroke="#333" stroke-width="1" />
<line x1="326.7" y1="564.5" x2="331.2" y2="564.5" stroke="#333" stroke-width="1" />
<line x1="558" y1="564.5" x2="553.5" y2="564.5" stroke="#333" stroke-width="1" />
<line x1="326.7" y1="562.5" x2="331.2" y2="562.5" stroke="#333" stroke-width="1" />
<line x1="558" y1="562.5" x2="553.5" y2="562.5" stroke="#333" stroke-width="1" />
<line x1="326.7" y1="560.5" x2="331.2" y2="560.5" stroke="#333" stroke-width="1" />
<line x1="558" y1="560.5" x2="553.5" y2="560.5" stroke="#333" stroke-width="1" />
<line x1="326.7" y1="558.5" x2="331.2" y2="558.5" stroke="#333" stroke-width="1" />
<line x1="558" y1="558.5" x2="553.5" y2="558.5" stroke="#333" stroke-width="1" />
<line x1="326.7" y1="547.5" x2="331.2" y2="547.5" stroke="#333" stroke-width="1" />
<line x1="558" y1="547.5" x2="553.5" y2="547.5" stroke="#333" stroke-width="1" />
<line x1="326.7" y1="541.5" x2="331.2" y2="541.5" stroke="#333" stroke-width="1" />
<line x1="558" y1="541.5" x2="553.5" y2="541.5" stroke="#333" stroke-width="1" />
<line x1="326.7" y1="537.5" x2="331.2" y2="537.5" stroke="#333" stroke-width="1" />
<line x1="558" y1="537.5" x2="553.5" y2="537.5" stroke="#333" stroke-width="1" />
<line x1="326.7" y1="534.5" x2="331.2" y2="534.5" stroke="#333" stroke-width="1" />
<line x1="558" y1="534.5" x2="553.5" y2="534.5" stroke="#333" stroke-width="1" />
<line x1="326.7" y1="531.5" x2="331.2" y2="531.5" stroke="#333" stroke-width="1" />
<line x1="558" y1="531.5" x2="553.5" y2="531.5" stroke="#333" stroke-width="1" />
<line x1="326.7" y1="529.5" x2="331.2" y2="529.5" stroke="#333" stroke-width="1" />
<line x1="558" y1="529.5" x2="553.5" y2="529.5" stroke="#333" stroke-width="1" />
<line x1="326.7" y1="527.5" x2="331.2" y2="527.5" stroke="#333" stroke-width="1" />
<line x1="558" y1="527.5" x2="553.5" y2="527.5" stroke="#333" stroke-width="1" />
<line x1="326.7" y1="525.5" x2="331.2" y2="525.5" stroke="#333" stroke-width="1" />
<line x1="558" y1="525.5" x2="553.5" y2="525.5" stroke="#333" stroke-width="1" />
<line x1="326.7" y1="514.5" x2="331.2" y2="514.5" stroke="#333" stroke-width="1" />
<line x1="558" y1="514.5" x2="553.5" y2="514.5" stroke="#333" stroke-width="1" />
<line x1="326.7" y1="508.5" x2="331.2" y2="508.5" stroke="#333" stroke-width="1" />
<line x1="558" y1="508.5" x2="553.5" y2="508.5" stroke="#333" stroke-width="1" />
<line x1="326.7" y1="504.5" x2="331.2" y2="504.5" stroke="#333" stroke-width="1" />
<line x1="558" y1="504.5" x2="553.5" y2="504.5" stroke="#333" stroke-width="1" />
<line x1="326.7" y1="501.5" x2="331.2" y2="501.5" stroke="#333" stroke-width="1" />
<line x1="558" y1="501.5" x2="553.5" y2="501.5" stroke="#333" stroke-width="1" />
<line x1="326.7" y1="498.5" x2="331.2" y2="498.5" stroke="#333" stroke-width="1" />
<line x1="558" y1="498.5" x2="553.5" y2="498.5" stroke="#333" stroke-width="1" />
<line x1="326.7" y1="496.5" x2="331.2" y2="496.5" stroke="#333" stroke-width="1" />
<line x1="558" y1="496.5" x2="553.5" y2="496.5" stroke="#333" stroke-width="1" />
<line x1="326.7" y1="494.5" x2="331.2" y2="494.5" stroke="#333" stroke-width="1" />
<line x1="558" y1="494.5" x2="553.5" y2="494.5" stroke="#333" stroke-width="1" />
<line x1="326.7" y1="493.5" x2="331.2" y2="493.5" stroke="#333" stroke-width="1" />
<line x1="558" y1="493.5" x2="553.5" y2="493.5" stroke="#333" stroke-width="1" />
<text x="327.2" y="667.2" font-size="9" text-anchor="middle" fill="#222" font-family='"Liberation Sans", sans-serif' >1</text>
<text x="427.5" y="667.2" font-size="9" text-anchor="middle" fill="#222" font-family='"Liberation Sans", sans-serif' >10</text>
<text x="527.8" y="667.2" font-size="9" text-anchor="middle" fill="#222" font-family='"Liberation Sans", sans-serif' >100</text>
<text x="321.2" y="658.2" font-size="9" text-anchor="end" fill="#222" font-family='"Liberation Sans", sans-serif' >0.01</text>
<text x="321.2" y="625.3" font-size="9" text-anchor="end" fill="#222" font-family='"Liberation Sans", sans-serif' >0.1</text>
<text x="321.2" y="592.4" font-size="9" text-anchor="end" fill="#222" font-family='"Liberation Sans", sans-serif' >1</text>
<text x="321.2" y="559.5" font-size="9" text-anchor="end" fill="#222" font-family='"Liberation Sans", sans-serif' >10</text>
<text x="321.2" y="526.6" font-size="9" text-anchor="end" fill="#222" font-family='"Liberation Sans", sans-serif' >100</text>
<text x="321.2" y="493.7" font-size="9" text-anchor="end" fill="#222" font-family='"Liberation Sans", sans-serif' >1000</text>
<text x="332.2" y="484.5" font-size="12.2" text-anchor="start" fill="#222" font-family='"Liberation Sans", sans-serif' >SF(2.5, 8, 15 000)</text>
<text x="438.2" y="484.5" font-size="12.2" text-anchor="start" fill="#222" font-family='"Liberation Sans", sans-serif' >Proportional fairness</text>
<text x="285.8" y="503" font-size="16" fill="#111" font-family='"Liberation Sans", sans-serif'>F<tspan dx="-0.2">)</tspan></text>
<g transform="translate(294.2,601.1) rotate(-90)">
<text x="0" y="0" font-size="12" text-anchor="start" fill="#222" font-family='"Liberation Sans", sans-serif' >Frequency</text>
</g>
</svg></body></html>
